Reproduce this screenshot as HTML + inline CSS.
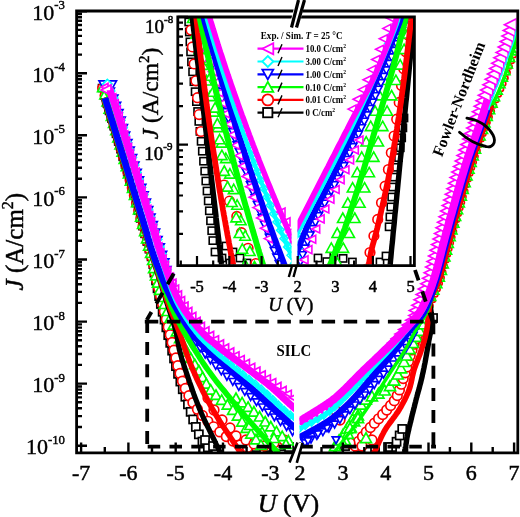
<!DOCTYPE html>
<html><head><meta charset="utf-8"><style>html,body{margin:0;padding:0;background:#fff;overflow:hidden}svg{display:block}</style></head><body>
<svg width="520" height="517" viewBox="0 0 520 517">
<rect width="520" height="517" fill="#fff"/>
<defs><clipPath id="cmL"><rect x="78" y="12" width="216" height="440"/></clipPath><clipPath id="cmR"><rect x="299.5" y="12" width="217" height="440"/></clipPath><clipPath id="ciL"><rect x="179" y="17.5" width="112.5" height="247"/></clipPath><clipPath id="ciR"><rect x="297.5" y="17.5" width="115.5" height="247"/></clipPath></defs>
<g clip-path="url(#cmL)">
<g fill="#fff" stroke="#000000" stroke-width="1.7"><rect x="98.5" y="84.6" width="6.8" height="6.8"/><rect x="100.9" y="92.2" width="6.8" height="6.8"/><rect x="103.2" y="99.9" width="6.8" height="6.8"/><rect x="105.5" y="107.5" width="6.8" height="6.8"/><rect x="107.9" y="115.2" width="6.8" height="6.8"/><rect x="110.2" y="122.9" width="6.8" height="6.8"/><rect x="112.5" y="130.5" width="6.8" height="6.8"/><rect x="114.7" y="138.2" width="6.8" height="6.8"/><rect x="117.0" y="145.9" width="6.8" height="6.8"/><rect x="119.2" y="153.5" width="6.8" height="6.8"/><rect x="121.5" y="161.2" width="6.8" height="6.8"/><rect x="123.7" y="168.9" width="6.8" height="6.8"/><rect x="125.9" y="176.6" width="6.8" height="6.8"/><rect x="128.1" y="184.3" width="6.8" height="6.8"/><rect x="130.2" y="192.0" width="6.8" height="6.8"/><rect x="132.4" y="199.7" width="6.8" height="6.8"/><rect x="134.6" y="207.4" width="6.8" height="6.8"/><rect x="136.7" y="215.1" width="6.8" height="6.8"/><rect x="138.9" y="222.8" width="6.8" height="6.8"/><rect x="141.1" y="230.5" width="6.8" height="6.8"/><rect x="143.3" y="238.2" width="6.8" height="6.8"/><rect x="145.4" y="245.9" width="6.8" height="6.8"/><rect x="147.5" y="253.6" width="6.8" height="6.8"/><rect x="149.3" y="261.4" width="6.8" height="6.8"/></g>
<g fill="#fff" stroke="#000000" stroke-width="1.7"><rect x="150.4" y="268.6" width="8.1" height="8.1"/><rect x="152.0" y="276.4" width="8.1" height="8.1"/><rect x="153.5" y="284.3" width="8.1" height="8.1"/><rect x="155.1" y="292.1" width="8.1" height="8.1"/><rect x="156.8" y="299.9" width="8.1" height="8.1"/><rect x="158.6" y="307.7" width="8.1" height="8.1"/><rect x="160.5" y="315.5" width="8.1" height="8.1"/><rect x="162.3" y="323.3" width="8.1" height="8.1"/><rect x="164.2" y="331.1" width="8.1" height="8.1"/><rect x="166.2" y="338.8" width="8.1" height="8.1"/><rect x="168.1" y="346.6" width="8.1" height="8.1"/><rect x="170.0" y="354.4" width="8.1" height="8.1"/><rect x="171.9" y="362.1" width="8.1" height="8.1"/><rect x="174.0" y="369.8" width="8.1" height="8.1"/><rect x="176.3" y="377.5" width="8.1" height="8.1"/><rect x="178.7" y="385.2" width="8.1" height="8.1"/><rect x="181.3" y="392.7" width="8.1" height="8.1"/><rect x="183.9" y="400.3" width="8.1" height="8.1"/><rect x="186.6" y="407.8" width="8.1" height="8.1"/><rect x="189.1" y="415.4" width="8.1" height="8.1"/><rect x="191.8" y="422.9" width="8.1" height="8.1"/><rect x="194.8" y="430.3" width="8.1" height="8.1"/><rect x="198.4" y="437.5" width="8.1" height="8.1"/><rect x="203.8" y="443.3" width="8.1" height="8.1"/></g>
<g fill="#fff" stroke="#000000" stroke-width="1.7"><rect x="201.0" y="436.0" width="8.1" height="8.1"/></g>
<g fill="#fff" stroke="#000000" stroke-width="1.7"><rect x="209.0" y="442.0" width="8.1" height="8.1"/></g>
<g fill="#fff" stroke="#000000" stroke-width="1.7"><rect x="239.0" y="443.0" width="8.1" height="8.1"/></g>
<g fill="#fff" stroke="#000000" stroke-width="1.7"><rect x="252.0" y="443.0" width="8.1" height="8.1"/></g>
<g fill="#fff" stroke="#000000" stroke-width="1.7"><rect x="264.0" y="443.0" width="8.1" height="8.1"/></g>
<g fill="#fff" stroke="#000000" stroke-width="1.7"><rect x="276.0" y="442.0" width="8.1" height="8.1"/></g>
<g fill="#fff" stroke="#000000" stroke-width="1.7"><rect x="285.0" y="443.0" width="8.1" height="8.1"/></g>
<g fill="#fff" stroke="#ff0000" stroke-width="1.7"><circle cx="101.9" cy="88.0" r="4.0"/><circle cx="104.3" cy="95.6" r="4.0"/><circle cx="106.6" cy="103.3" r="4.0"/><circle cx="108.9" cy="110.9" r="4.0"/><circle cx="111.3" cy="118.6" r="4.0"/><circle cx="113.6" cy="126.3" r="4.0"/><circle cx="115.9" cy="133.9" r="4.0"/><circle cx="118.1" cy="141.6" r="4.0"/><circle cx="120.4" cy="149.3" r="4.0"/><circle cx="122.6" cy="156.9" r="4.0"/><circle cx="124.9" cy="164.6" r="4.0"/><circle cx="127.1" cy="172.3" r="4.0"/><circle cx="129.3" cy="180.0" r="4.0"/><circle cx="131.5" cy="187.7" r="4.0"/><circle cx="133.6" cy="195.4" r="4.0"/><circle cx="135.8" cy="203.1" r="4.0"/><circle cx="138.0" cy="210.8" r="4.0"/><circle cx="140.1" cy="218.5" r="4.0"/><circle cx="142.3" cy="226.2" r="4.0"/><circle cx="144.4" cy="233.9" r="4.0"/><circle cx="146.6" cy="241.6" r="4.0"/><circle cx="148.7" cy="249.3" r="4.0"/><circle cx="150.8" cy="257.0" r="4.0"/><circle cx="152.8" cy="264.8" r="4.0"/></g>
<g fill="#fff" stroke="#ff0000" stroke-width="1.7"><circle cx="154.8" cy="272.5" r="4.8"/><circle cx="156.7" cy="280.3" r="4.8"/><circle cx="158.6" cy="288.1" r="4.8"/><circle cx="160.5" cy="295.9" r="4.8"/><circle cx="162.4" cy="303.6" r="4.8"/><circle cx="164.3" cy="311.4" r="4.8"/><circle cx="166.3" cy="319.2" r="4.8"/><circle cx="168.2" cy="326.9" r="4.8"/><circle cx="170.2" cy="334.7" r="4.8"/><circle cx="172.1" cy="342.4" r="4.8"/><circle cx="174.0" cy="350.2" r="4.8"/><circle cx="175.9" cy="358.0" r="4.8"/><circle cx="177.8" cy="365.7" r="4.8"/><circle cx="180.0" cy="373.4" r="4.8"/><circle cx="182.4" cy="381.1" r="4.8"/><circle cx="185.3" cy="388.5" r="4.8"/><circle cx="188.9" cy="395.7" r="4.8"/><circle cx="192.9" cy="402.6" r="4.8"/><circle cx="197.4" cy="409.2" r="4.8"/><circle cx="202.4" cy="415.4" r="4.8"/><circle cx="207.8" cy="421.3" r="4.8"/><circle cx="213.6" cy="426.8" r="4.8"/><circle cx="219.8" cy="431.9" r="4.8"/><circle cx="226.3" cy="436.6" r="4.8"/><circle cx="232.9" cy="441.1" r="4.8"/><circle cx="239.9" cy="444.9" r="4.8"/><circle cx="247.5" cy="447.4" r="4.8"/></g>
<g fill="#fff" stroke="#ff0000" stroke-width="1.7"><circle cx="208.0" cy="398.0" r="4.8"/></g>
<g fill="#fff" stroke="#ff0000" stroke-width="1.7"><circle cx="214.0" cy="410.0" r="4.8"/></g>
<g fill="#fff" stroke="#ff0000" stroke-width="1.7"><circle cx="222.0" cy="420.0" r="4.8"/></g>
<g fill="#fff" stroke="#ff0000" stroke-width="1.7"><circle cx="230.0" cy="428.0" r="4.8"/></g>
<g fill="#fff" stroke="#ff0000" stroke-width="1.7"><circle cx="236.0" cy="436.0" r="4.8"/></g>
<g fill="#fff" stroke="#ff0000" stroke-width="1.7"><circle cx="246.0" cy="440.0" r="4.8"/></g>
<g fill="#fff" stroke="#ff0000" stroke-width="1.7"><circle cx="254.0" cy="444.0" r="4.8"/></g>
<g fill="#fff" stroke="#ff0000" stroke-width="1.7"><circle cx="264.0" cy="446.0" r="4.8"/></g>
<g fill="#fff" stroke="#ff0000" stroke-width="1.7"><circle cx="274.0" cy="443.0" r="4.8"/></g>
<g fill="#fff" stroke="#ff0000" stroke-width="1.7"><circle cx="284.0" cy="440.0" r="4.8"/></g>
<g fill="#fff" stroke="#00ff00" stroke-width="1.7"><path d="M97.6 91.6L106.1 91.6L101.9 84.0Z"/><path d="M99.9 98.8L108.4 98.8L104.1 91.1Z"/><path d="M102.1 105.9L110.6 105.9L106.3 98.3Z"/><path d="M104.2 113.1L112.7 113.1L108.5 105.5Z"/><path d="M106.4 120.3L114.9 120.3L110.7 112.6Z"/><path d="M108.6 127.5L117.1 127.5L112.8 119.8Z"/><path d="M110.8 134.7L119.3 134.7L115.0 127.0Z"/><path d="M112.9 141.8L121.4 141.8L117.2 134.2Z"/><path d="M115.0 149.0L123.5 149.0L119.3 141.4Z"/><path d="M117.1 156.2L125.6 156.2L121.4 148.6Z"/><path d="M119.2 163.4L127.7 163.4L123.5 155.8Z"/><path d="M121.3 170.6L129.8 170.6L125.6 163.0Z"/><path d="M123.4 177.8L131.9 177.8L127.6 170.2Z"/><path d="M125.4 185.1L133.9 185.1L129.7 177.4Z"/><path d="M127.5 192.3L136.0 192.3L131.7 184.6Z"/><path d="M129.5 199.5L138.0 199.5L133.8 191.8Z"/><path d="M131.6 206.7L140.1 206.7L135.8 199.1Z"/><path d="M133.6 213.9L142.1 213.9L137.8 206.3Z"/><path d="M135.6 221.2L144.1 221.2L139.8 213.5Z"/><path d="M137.6 228.4L146.1 228.4L141.9 220.7Z"/><path d="M139.6 235.6L148.1 235.6L143.9 228.0Z"/><path d="M141.6 242.8L150.1 242.8L145.8 235.2Z"/><path d="M143.6 250.1L152.1 250.1L147.8 242.4Z"/><path d="M145.6 257.3L154.1 257.3L149.8 249.7Z"/><path d="M147.6 264.5L156.1 264.5L151.9 256.9Z"/></g>
<g fill="#fff" stroke="#00ff00" stroke-width="1.7"><path d="M148.6 272.6L159.1 272.6L153.8 263.2Z"/><path d="M150.5 279.9L161.0 279.9L155.8 270.4Z"/><path d="M152.5 287.1L163.0 287.1L157.7 277.6Z"/><path d="M154.5 294.3L165.0 294.3L159.8 284.9Z"/><path d="M156.7 301.5L167.2 301.5L162.0 292.0Z"/><path d="M159.2 308.5L169.7 308.5L164.5 299.1Z"/><path d="M162.1 315.5L172.6 315.5L167.3 306.0Z"/><path d="M165.1 322.4L175.6 322.4L170.3 312.9Z"/><path d="M168.3 329.2L178.8 329.2L173.5 319.7Z"/><path d="M171.4 335.9L181.9 335.9L176.7 326.5Z"/><path d="M174.6 342.7L185.1 342.7L179.9 333.3Z"/><path d="M178.0 349.4L188.5 349.4L183.3 340.0Z"/><path d="M181.6 356.0L192.1 356.0L186.9 346.5Z"/><path d="M185.5 362.4L196.0 362.4L190.8 353.0Z"/><path d="M189.6 368.7L200.1 368.7L194.8 359.3Z"/><path d="M193.6 375.0L204.1 375.0L198.9 365.6Z"/><path d="M197.3 381.6L207.8 381.6L202.6 372.1Z"/><path d="M201.1 388.1L211.6 388.1L206.3 378.6Z"/><path d="M205.5 394.1L216.0 394.1L210.7 384.7Z"/><path d="M210.7 399.4L221.2 399.4L216.0 390.0Z"/><path d="M216.4 404.3L226.9 404.3L221.7 394.9Z"/><path d="M222.2 409.2L232.7 409.2L227.4 399.7Z"/><path d="M227.6 414.3L238.1 414.3L232.9 404.9Z"/><path d="M232.4 420.1L242.9 420.1L237.7 410.6Z"/><path d="M236.8 426.2L247.3 426.2L242.0 416.7Z"/><path d="M241.1 432.3L251.6 432.3L246.3 422.9Z"/><path d="M245.8 438.1L256.3 438.1L251.1 428.7Z"/><path d="M250.7 443.8L261.2 443.8L256.0 434.3Z"/><path d="M255.8 449.4L266.3 449.4L261.0 439.9Z"/></g>
<g fill="#fff" stroke="#00ff00" stroke-width="1.7"><path d="M230.8 402.5L241.2 402.5L236.0 393.0Z"/><path d="M236.8 406.9L247.3 406.9L242.1 397.4Z"/><path d="M242.8 411.4L253.3 411.4L248.1 401.9Z"/><path d="M248.7 416.1L259.2 416.1L253.9 406.6Z"/><path d="M254.3 421.0L264.8 421.0L259.6 411.5Z"/><path d="M259.9 426.0L270.4 426.0L265.2 416.5Z"/><path d="M265.6 430.9L276.1 430.9L270.8 421.5Z"/><path d="M271.2 435.8L281.7 435.8L276.5 426.4Z"/><path d="M277.0 440.6L287.5 440.6L282.2 431.2Z"/><path d="M283.1 445.0L293.6 445.0L288.3 435.6Z"/></g>
<g fill="#fff" stroke="#00ff00" stroke-width="1.7"><path d="M244.8 429.5L255.2 429.5L250.0 420.0Z"/></g>
<g fill="#fff" stroke="#00ff00" stroke-width="1.7"><path d="M256.8 436.5L267.2 436.5L262.0 427.0Z"/></g>
<g fill="#fff" stroke="#00ff00" stroke-width="1.7"><path d="M268.8 442.5L279.2 442.5L274.0 433.0Z"/></g>
<g fill="#fff" stroke="#00ff00" stroke-width="1.7"><path d="M280.8 448.5L291.2 448.5L286.0 439.0Z"/></g>
<g fill="#fff" stroke="#0000ff" stroke-width="1.7"><path d="M102.0 81.6L110.0 81.6L106.0 88.8Z"/><path d="M106.4 88.0L114.4 88.0L110.4 95.2Z"/><path d="M109.9 95.0L117.9 95.0L113.9 102.2Z"/><path d="M112.6 102.3L120.6 102.3L116.6 109.5Z"/><path d="M115.0 109.7L123.0 109.7L119.0 116.9Z"/><path d="M117.2 117.2L125.2 117.2L121.2 124.4Z"/><path d="M119.4 124.7L127.4 124.7L123.4 131.9Z"/><path d="M121.6 132.2L129.6 132.2L125.6 139.4Z"/><path d="M123.9 139.6L131.9 139.6L127.9 146.8Z"/><path d="M126.2 147.1L134.2 147.1L130.2 154.3Z"/><path d="M128.6 154.5L136.6 154.5L132.6 161.7Z"/><path d="M130.9 162.0L138.9 162.0L134.9 169.2Z"/><path d="M133.2 169.4L141.2 169.4L137.2 176.6Z"/><path d="M135.5 176.9L143.5 176.9L139.5 184.1Z"/><path d="M137.8 184.3L145.8 184.3L141.8 191.5Z"/><path d="M140.1 191.8L148.1 191.8L144.1 199.0Z"/><path d="M142.4 199.2L150.4 199.2L146.4 206.4Z"/><path d="M144.7 206.7L152.7 206.7L148.7 213.9Z"/><path d="M147.0 214.1L155.0 214.1L151.0 221.3Z"/><path d="M149.3 221.6L157.3 221.6L153.3 228.8Z"/><path d="M151.6 229.0L159.6 229.0L155.6 236.2Z"/><path d="M154.0 236.5L162.0 236.5L158.0 243.7Z"/><path d="M156.3 243.9L164.3 243.9L160.3 251.1Z"/><path d="M158.6 251.4L166.6 251.4L162.6 258.6Z"/><path d="M160.9 258.8L168.9 258.8L164.9 266.0Z"/></g>
<g fill="#fff" stroke="#0000ff" stroke-width="1.7"><path d="M163.4 266.5L170.9 266.5L167.2 273.2Z"/><path d="M165.7 274.0L173.2 274.0L169.4 280.7Z"/><path d="M168.0 281.4L175.5 281.4L171.7 288.2Z"/><path d="M170.3 288.9L177.8 288.9L174.1 295.6Z"/><path d="M172.7 296.3L180.2 296.3L176.5 303.0Z"/><path d="M175.2 303.7L182.7 303.7L178.9 310.4Z"/><path d="M177.8 311.0L185.3 311.0L181.5 317.8Z"/><path d="M180.6 318.3L188.1 318.3L184.4 325.0Z"/><path d="M184.0 325.3L191.5 325.3L187.7 332.1Z"/><path d="M187.7 332.2L195.2 332.2L191.5 338.9Z"/><path d="M191.9 338.8L199.4 338.8L195.6 345.5Z"/><path d="M196.5 345.1L204.0 345.1L200.2 351.8Z"/><path d="M201.4 351.1L208.9 351.1L205.2 357.9Z"/><path d="M206.6 356.9L214.1 356.9L210.4 363.7Z"/><path d="M212.0 362.6L219.5 362.6L215.7 369.3Z"/><path d="M217.5 368.1L225.0 368.1L221.3 374.8Z"/><path d="M223.2 373.4L230.7 373.4L226.9 380.2Z"/><path d="M229.1 378.5L236.6 378.5L232.8 385.3Z"/><path d="M235.1 383.6L242.6 383.6L238.8 390.3Z"/><path d="M241.0 388.6L248.5 388.6L244.8 395.3Z"/><path d="M246.9 393.7L254.4 393.7L250.6 400.5Z"/><path d="M252.7 398.9L260.2 398.9L256.5 405.6Z"/><path d="M258.6 404.0L266.1 404.0L262.4 410.8Z"/><path d="M264.6 409.1L272.1 409.1L268.3 415.8Z"/><path d="M270.6 414.0L278.1 414.0L274.4 420.7Z"/><path d="M276.7 418.8L284.2 418.8L280.5 425.6Z"/><path d="M282.8 423.7L290.3 423.7L286.6 430.4Z"/><path d="M288.8 428.7L296.3 428.7L292.5 435.5Z"/></g>
<g fill="#fff" stroke="#0000ff" stroke-width="1.7"><path d="M99.0 80.8L109.0 80.8L104.0 89.8Z"/></g>
<g fill="#fff" stroke="#0000ff" stroke-width="1.7"><path d="M106.5 80.8L116.5 80.8L111.5 89.8Z"/></g>
<g fill="#fff" stroke="#00ffff" stroke-width="1.7"><path d="M107.0 80.0L111.0 84.0L107.0 88.0L103.0 84.0Z"/><path d="M110.7 86.9L114.7 90.9L110.7 94.9L106.7 90.9Z"/><path d="M113.8 94.0L117.8 98.0L113.8 102.0L109.8 98.0Z"/><path d="M116.3 101.4L120.3 105.4L116.3 109.4L112.3 105.4Z"/><path d="M118.7 108.8L122.7 112.8L118.7 116.8L114.7 112.8Z"/><path d="M120.9 116.3L124.9 120.3L120.9 124.3L116.9 120.3Z"/><path d="M123.2 123.8L127.2 127.8L123.2 131.8L119.2 127.8Z"/><path d="M125.4 131.2L129.4 135.2L125.4 139.2L121.4 135.2Z"/><path d="M127.7 138.7L131.7 142.7L127.7 146.7L123.7 142.7Z"/><path d="M130.0 146.1L134.0 150.1L130.0 154.1L126.0 150.1Z"/><path d="M132.4 153.6L136.4 157.6L132.4 161.6L128.4 157.6Z"/><path d="M134.7 161.0L138.7 165.0L134.7 169.0L130.7 165.0Z"/><path d="M137.0 168.5L141.0 172.5L137.0 176.5L133.0 172.5Z"/><path d="M139.3 175.9L143.3 179.9L139.3 183.9L135.3 179.9Z"/><path d="M141.6 183.4L145.6 187.4L141.6 191.4L137.6 187.4Z"/><path d="M143.9 190.8L147.9 194.8L143.9 198.8L139.9 194.8Z"/><path d="M146.2 198.3L150.2 202.3L146.2 206.3L142.2 202.3Z"/><path d="M148.5 205.7L152.5 209.7L148.5 213.7L144.5 209.7Z"/><path d="M150.8 213.2L154.8 217.2L150.8 221.2L146.8 217.2Z"/><path d="M153.1 220.7L157.1 224.7L153.1 228.7L149.1 224.7Z"/><path d="M155.4 228.1L159.4 232.1L155.4 236.1L151.4 232.1Z"/><path d="M157.7 235.6L161.7 239.6L157.7 243.6L153.7 239.6Z"/><path d="M160.0 243.0L164.0 247.0L160.0 251.0L156.0 247.0Z"/><path d="M162.3 250.5L166.3 254.5L162.3 258.5L158.3 254.5Z"/><path d="M164.7 257.9L168.7 261.9L164.7 265.9L160.7 261.9Z"/></g>
<g fill="#fff" stroke="#00ffff" stroke-width="1.7"><path d="M167.1 265.3L171.1 269.3L167.1 273.3L163.1 269.3Z"/><path d="M169.5 272.7L173.5 276.7L169.5 280.7L165.5 276.7Z"/><path d="M172.0 280.1L176.0 284.1L172.0 288.1L168.0 284.1Z"/><path d="M174.6 287.5L178.6 291.5L174.6 295.5L170.6 291.5Z"/><path d="M177.5 294.7L181.5 298.7L177.5 302.7L173.5 298.7Z"/><path d="M180.7 301.8L184.7 305.8L180.7 309.8L176.7 305.8Z"/><path d="M184.3 308.7L188.3 312.7L184.3 316.7L180.3 312.7Z"/><path d="M188.3 315.4L192.3 319.4L188.3 323.4L184.3 319.4Z"/><path d="M192.6 322.0L196.6 326.0L192.6 330.0L188.6 326.0Z"/><path d="M197.1 328.3L201.1 332.3L197.1 336.3L193.1 332.3Z"/><path d="M202.0 334.4L206.0 338.4L202.0 342.4L198.0 338.4Z"/><path d="M207.2 340.2L211.2 344.2L207.2 348.2L203.2 344.2Z"/><path d="M212.7 345.7L216.7 349.7L212.7 353.7L208.7 349.7Z"/><path d="M218.5 351.0L222.5 355.0L218.5 359.0L214.5 355.0Z"/><path d="M224.5 356.0L228.5 360.0L224.5 364.0L220.5 360.0Z"/><path d="M230.6 360.8L234.6 364.8L230.6 368.8L226.6 364.8Z"/><path d="M236.7 365.7L240.7 369.7L236.7 373.7L232.7 369.7Z"/><path d="M242.7 370.6L246.7 374.6L242.7 378.6L238.7 374.6Z"/><path d="M248.9 375.4L252.9 379.4L248.9 383.4L244.9 379.4Z"/><path d="M255.0 380.2L259.0 384.2L255.0 388.2L251.0 384.2Z"/><path d="M261.0 385.2L265.0 389.2L261.0 393.2L257.0 389.2Z"/><path d="M266.9 390.3L270.9 394.3L266.9 398.3L262.9 394.3Z"/><path d="M272.6 395.7L276.6 399.7L272.6 403.7L268.6 399.7Z"/><path d="M278.2 401.0L282.2 405.0L278.2 409.0L274.2 405.0Z"/><path d="M284.0 406.3L288.0 410.3L284.0 414.3L280.0 410.3Z"/><path d="M290.1 411.1L294.1 415.1L290.1 419.1L286.1 415.1Z"/><path d="M296.8 415.2L300.8 419.2L296.8 423.2L292.8 419.2Z"/></g>
<g fill="#fff" stroke="#00ffff" stroke-width="1.7"><path d="M107.5 79.5L112.0 84.0L107.5 88.5L103.0 84.0Z"/></g>
<g fill="#fff" stroke="#ff00ff" stroke-width="1.7"><path d="M101.0 87.0L108.0 83.5L108.0 90.5Z"/><path d="M105.4 91.8L112.4 88.3L112.4 95.3Z"/><path d="M108.8 97.3L115.8 93.8L115.8 100.8Z"/><path d="M111.2 103.3L118.2 99.8L118.2 106.8Z"/><path d="M113.3 109.5L120.3 106.0L120.3 113.0Z"/><path d="M115.2 115.7L122.2 112.2L122.2 119.2Z"/><path d="M117.1 121.9L124.1 118.4L124.1 125.4Z"/><path d="M118.9 128.2L125.9 124.7L125.9 131.7Z"/><path d="M120.7 134.4L127.7 130.9L127.7 137.9Z"/><path d="M122.6 140.6L129.6 137.1L129.6 144.1Z"/><path d="M124.5 146.8L131.5 143.3L131.5 150.3Z"/><path d="M126.4 153.1L133.4 149.6L133.4 156.6Z"/><path d="M128.4 159.3L135.4 155.8L135.4 162.8Z"/><path d="M130.3 165.5L137.3 162.0L137.3 169.0Z"/><path d="M132.2 171.7L139.2 168.2L139.2 175.2Z"/><path d="M134.1 177.9L141.1 174.4L141.1 181.4Z"/><path d="M136.1 184.1L143.1 180.6L143.1 187.6Z"/><path d="M138.0 190.3L145.0 186.8L145.0 193.8Z"/><path d="M139.9 196.5L146.9 193.0L146.9 200.0Z"/><path d="M141.8 202.7L148.8 199.2L148.8 206.2Z"/><path d="M143.8 208.9L150.8 205.4L150.8 212.4Z"/><path d="M145.7 215.1L152.7 211.6L152.7 218.6Z"/><path d="M147.6 221.3L154.6 217.8L154.6 224.8Z"/><path d="M149.5 227.6L156.5 224.1L156.5 231.1Z"/><path d="M151.3 233.8L158.3 230.3L158.3 237.3Z"/><path d="M153.1 240.1L160.1 236.6L160.1 243.6Z"/><path d="M154.9 246.3L161.9 242.8L161.9 249.8Z"/><path d="M156.9 252.5L163.9 249.0L163.9 256.0Z"/><path d="M159.1 258.6L166.1 255.1L166.1 262.1Z"/><path d="M161.4 264.7L168.4 261.2L168.4 268.2Z"/></g>
<g fill="#fff" stroke="#ff00ff" stroke-width="1.7"><path d="M163.8 270.7L170.8 267.2L170.8 274.2Z"/><path d="M166.3 276.7L173.3 273.2L173.3 280.2Z"/><path d="M168.9 282.7L175.9 279.2L175.9 286.2Z"/><path d="M171.6 288.6L178.6 285.1L178.6 292.1Z"/><path d="M174.5 294.4L181.5 290.9L181.5 297.9Z"/><path d="M177.6 300.1L184.6 296.6L184.6 303.6Z"/><path d="M181.0 305.6L188.0 302.1L188.0 309.1Z"/><path d="M184.8 310.9L191.8 307.4L191.8 314.4Z"/><path d="M188.8 316.0L195.8 312.5L195.8 319.5Z"/><path d="M193.1 321.0L200.1 317.5L200.1 324.5Z"/><path d="M197.4 325.8L204.4 322.3L204.4 329.3Z"/><path d="M201.9 330.5L208.9 327.0L208.9 334.0Z"/><path d="M206.6 335.0L213.6 331.5L213.6 338.5Z"/><path d="M211.5 339.3L218.5 335.8L218.5 342.8Z"/><path d="M216.5 343.4L223.5 339.9L223.5 346.9Z"/><path d="M221.6 347.5L228.6 344.0L228.6 351.0Z"/><path d="M226.7 351.4L233.7 347.9L233.7 354.9Z"/><path d="M232.0 355.3L239.0 351.8L239.0 358.8Z"/><path d="M237.2 359.1L244.2 355.6L244.2 362.6Z"/><path d="M242.4 363.0L249.4 359.5L249.4 366.5Z"/><path d="M247.7 366.8L254.7 363.3L254.7 370.3Z"/><path d="M252.9 370.6L259.9 367.1L259.9 374.1Z"/><path d="M258.2 374.5L265.2 371.0L265.2 378.0Z"/><path d="M263.4 378.3L270.4 374.8L270.4 381.8Z"/><path d="M268.7 382.1L275.7 378.6L275.7 385.6Z"/><path d="M273.9 386.0L280.9 382.5L280.9 389.5Z"/><path d="M279.1 389.9L286.1 386.4L286.1 393.4Z"/><path d="M284.3 393.8L291.3 390.3L291.3 397.3Z"/><path d="M289.5 397.7L296.5 394.2L296.5 401.2Z"/></g>
<g fill="#fff" stroke="#ff00ff" stroke-width="1.7"><path d="M101.0 90.0L111.0 85.0L111.0 95.0Z"/></g>
<path d="M103.1 98.0 L103.7 100.0 L104.5 102.6 L105.4 105.6 L106.5 109.0 L107.6 112.6 L108.8 116.5 L110.1 120.5 L111.3 124.6 L112.6 128.7 L113.8 132.6 L115.0 136.4 L116.1 140.0 L117.2 143.4 L118.2 146.8 L119.2 150.1 L120.3 153.5 L121.3 156.8 L122.3 160.1 L123.4 163.4 L124.4 166.7 L125.4 170.0 L126.4 173.4 L127.5 176.7 L128.5 180.0 L129.5 183.3 L130.6 186.7 L131.6 190.0 L132.6 193.3 L133.7 196.7 L134.7 200.0 L135.7 203.3 L136.8 206.7 L137.8 210.0 L138.8 213.3 L139.9 216.7 L140.9 220.0 L141.9 223.3 L143.0 226.7 L144.0 230.0 L145.0 233.3 L146.1 236.7 L147.1 240.0 L148.1 243.3 L149.1 246.7 L150.2 250.0 L151.2 253.3 L152.3 256.7 L153.3 260.0 L154.4 263.4 L155.4 266.8 L156.5 270.2 L157.6 273.7 L158.7 277.2 L159.8 280.6 L160.9 284.0 L162.0 287.4 L163.0 290.7 L164.1 293.9 L165.1 297.0 L166.0 300.0 L166.9 302.9 L167.8 305.7 L168.7 308.4 L169.6 311.1 L170.5 313.7 L171.3 316.2 L172.1 318.7 L172.9 321.1 L173.6 323.4 L174.3 325.7 L174.9 327.9 L175.5 330.0 L176.0 332.0 L176.5 333.9 L176.8 335.7 L177.2 337.4 L177.5 339.0 L177.7 340.6 L178.0 342.2 L178.2 343.7 L178.5 345.2 L178.8 346.8 L179.1 348.4 L179.5 350.0 L179.9 351.6 L180.3 353.1 L180.7 354.5 L181.0 355.9 L181.4 357.3 L181.8 358.8 L182.3 360.2 L182.8 361.9 L183.4 363.6 L184.0 365.5 L184.7 367.6 L185.5 370.0 L186.4 372.6 L187.4 375.5 L188.4 378.5 L189.5 381.8 L190.7 385.1 L191.9 388.6 L193.1 392.2 L194.4 395.8 L195.8 399.4 L197.2 403.0 L198.6 406.5 L200.0 410.0 L201.5 413.5 L203.2 417.3 L205.0 421.2 L206.9 425.2 L208.9 429.2 L210.8 433.1 L212.7 437.0 L214.5 440.6 L216.1 444.0 L217.6 447.1 L218.9 449.8 L220.0 452.0 L220.8 453.8 L221.4 455.2 L221.8 456.2 L222.1 456.9 L222.2 457.4 L222.2 457.6 L222.2 457.7 L222.1 457.8 L222.1 457.8 L222.0 457.8 L222.0 457.8 L222.0 458.0" fill="none" stroke="#000000" stroke-width="5.2" stroke-linejoin="round"/>
<path d="M103.6 98.0 L104.2 100.0 L105.0 102.6 L105.9 105.6 L107.0 109.0 L108.1 112.6 L109.3 116.5 L110.6 120.5 L111.8 124.6 L113.1 128.7 L114.3 132.6 L115.5 136.4 L116.6 140.0 L117.7 143.4 L118.7 146.8 L119.7 150.1 L120.8 153.5 L121.8 156.8 L122.8 160.1 L123.9 163.4 L124.9 166.7 L125.9 170.0 L126.9 173.4 L128.0 176.7 L129.0 180.0 L130.0 183.3 L131.1 186.7 L132.1 190.0 L133.1 193.3 L134.2 196.7 L135.2 200.0 L136.2 203.3 L137.3 206.7 L138.3 210.0 L139.3 213.3 L140.4 216.7 L141.4 220.0 L142.4 223.3 L143.5 226.7 L144.5 230.0 L145.5 233.3 L146.5 236.7 L147.6 240.0 L148.6 243.3 L149.6 246.7 L150.6 250.0 L151.7 253.3 L152.7 256.7 L153.8 260.0 L154.9 263.4 L156.0 266.8 L157.1 270.2 L158.2 273.7 L159.3 277.2 L160.5 280.6 L161.6 284.0 L162.7 287.4 L163.8 290.7 L164.9 293.9 L166.0 297.0 L167.0 300.0 L168.0 302.8 L169.0 305.5 L169.9 308.0 L170.8 310.4 L171.8 312.7 L172.7 315.0 L173.6 317.3 L174.5 319.6 L175.5 322.0 L176.4 324.5 L177.4 327.2 L178.5 330.0 L179.6 333.0 L180.7 336.1 L181.8 339.3 L182.9 342.6 L184.1 346.0 L185.2 349.4 L186.4 352.8 L187.6 356.3 L188.9 359.8 L190.2 363.2 L191.6 366.6 L193.0 370.0 L194.5 373.3 L195.9 376.6 L197.4 380.0 L199.0 383.3 L200.6 386.6 L202.2 389.9 L203.9 393.2 L205.6 396.5 L207.4 399.9 L209.2 403.2 L211.1 406.6 L213.0 410.0 L215.1 413.5 L217.4 417.3 L219.8 421.2 L222.4 425.2 L225.0 429.2 L227.6 433.1 L230.2 437.0 L232.6 440.6 L234.8 444.0 L236.9 447.1 L238.6 449.8 L240.0 452.0 L241.0 453.8 L241.8 455.2 L242.3 456.2 L242.6 456.9 L242.7 457.4 L242.7 457.6 L242.6 457.7 L242.4 457.8 L242.2 457.8 L242.1 457.8 L242.0 457.8 L242.0 458.0" fill="none" stroke="#ff0000" stroke-width="5.6" stroke-linejoin="round"/>
<path d="M104.1 98.0 L104.7 100.0 L105.5 102.6 L106.4 105.6 L107.5 109.0 L108.6 112.6 L109.8 116.5 L111.1 120.5 L112.3 124.6 L113.6 128.7 L114.8 132.6 L116.0 136.4 L117.1 140.0 L118.2 143.4 L119.2 146.8 L120.2 150.1 L121.3 153.5 L122.3 156.8 L123.3 160.1 L124.4 163.4 L125.4 166.7 L126.4 170.0 L127.4 173.4 L128.5 176.7 L129.5 180.0 L130.5 183.3 L131.6 186.7 L132.6 190.0 L133.6 193.3 L134.7 196.7 L135.7 200.0 L136.7 203.3 L137.8 206.7 L138.8 210.0 L139.8 213.3 L140.9 216.7 L141.9 220.0 L142.9 223.3 L143.9 226.7 L145.0 230.0 L146.0 233.3 L147.0 236.7 L148.0 240.0 L149.0 243.3 L150.0 246.7 L151.1 250.0 L152.1 253.3 L153.2 256.7 L154.3 260.0 L155.4 263.4 L156.6 266.8 L157.7 270.2 L158.9 273.7 L160.1 277.2 L161.3 280.6 L162.5 284.0 L163.7 287.4 L164.9 290.7 L166.1 293.9 L167.3 297.0 L168.5 300.0 L169.7 302.8 L170.8 305.5 L171.9 308.0 L172.9 310.4 L174.0 312.7 L175.1 315.0 L176.2 317.3 L177.4 319.6 L178.6 322.0 L180.0 324.5 L181.4 327.2 L183.0 330.0 L184.7 333.0 L186.5 336.1 L188.3 339.3 L190.3 342.6 L192.3 346.0 L194.4 349.4 L196.6 352.8 L198.8 356.3 L201.0 359.8 L203.3 363.2 L205.6 366.6 L208.0 370.0 L210.5 373.4 L213.0 376.8 L215.7 380.4 L218.5 383.9 L221.3 387.4 L224.2 390.9 L227.0 394.4 L229.8 397.8 L232.5 401.1 L235.2 404.2 L237.7 407.2 L240.0 410.0 L242.2 412.6 L244.3 415.1 L246.3 417.4 L248.2 419.6 L250.1 421.7 L251.9 423.8 L253.6 425.7 L255.3 427.6 L257.0 429.5 L258.7 431.3 L260.3 433.1 L262.0 435.0 L263.7 436.9 L265.4 438.9 L267.2 440.8 L269.0 442.8 L270.7 444.7 L272.4 446.6 L274.0 448.3 L275.5 450.0 L276.9 451.5 L278.1 452.9 L279.1 454.0 L280.0 455.0" fill="none" stroke="#00ff00" stroke-width="5.6" stroke-linejoin="round"/>
<path d="M105.0 98.0 L105.6 100.0 L106.4 102.6 L107.3 105.6 L108.4 109.0 L109.5 112.6 L110.7 116.5 L112.0 120.5 L113.2 124.6 L114.5 128.7 L115.7 132.6 L116.9 136.4 L118.0 140.0 L119.1 143.4 L120.1 146.8 L121.1 150.1 L122.2 153.5 L123.2 156.8 L124.2 160.1 L125.3 163.4 L126.3 166.7 L127.3 170.0 L128.3 173.4 L129.4 176.7 L130.4 180.0 L131.4 183.3 L132.5 186.7 L133.5 190.0 L134.5 193.3 L135.6 196.7 L136.6 200.0 L137.6 203.3 L138.7 206.7 L139.7 210.0 L140.7 213.3 L141.8 216.7 L142.8 220.0 L143.8 223.3 L144.8 226.7 L145.8 230.0 L146.8 233.3 L147.7 236.7 L148.7 240.0 L149.7 243.3 L150.7 246.7 L151.8 250.0 L152.9 253.3 L154.0 256.7 L155.2 260.0 L156.4 263.4 L157.7 266.8 L159.1 270.2 L160.4 273.7 L161.8 277.2 L163.2 280.6 L164.7 284.0 L166.1 287.4 L167.6 290.7 L169.1 293.9 L170.5 297.0 L172.0 300.0 L173.5 302.9 L174.9 305.7 L176.4 308.4 L177.9 311.1 L179.5 313.7 L181.0 316.2 L182.5 318.7 L184.0 321.1 L185.5 323.4 L187.0 325.7 L188.5 327.9 L190.0 330.0 L191.4 332.0 L192.8 333.9 L194.2 335.7 L195.5 337.4 L196.9 339.0 L198.2 340.6 L199.5 342.2 L200.9 343.7 L202.4 345.2 L203.8 346.8 L205.4 348.4 L207.0 350.0 L208.7 351.7 L210.5 353.3 L212.3 355.0 L214.2 356.7 L216.2 358.3 L218.1 360.0 L220.1 361.7 L222.1 363.3 L224.1 365.0 L226.1 366.7 L228.1 368.3 L230.0 370.0 L231.9 371.7 L233.8 373.3 L235.8 375.0 L237.7 376.6 L239.6 378.3 L241.5 379.9 L243.4 381.6 L245.3 383.3 L247.2 384.9 L249.2 386.6 L251.1 388.3 L253.0 390.0 L254.9 391.7 L256.8 393.4 L258.7 395.2 L260.6 396.9 L262.5 398.7 L264.4 400.4 L266.3 402.2 L268.3 403.9 L270.2 405.7 L272.1 407.5 L274.0 409.2 L276.0 411.0 L278.0 412.8 L280.2 414.8 L282.5 416.8 L284.8 418.9 L287.1 421.0 L289.4 423.1 L291.7 425.0 L293.7 426.9 L295.7 428.6 L297.4 430.2 L298.8 431.5 L300.0 432.5" fill="none" stroke="#0000ff" stroke-width="6.6" stroke-linejoin="round"/>
<path d="M111.1 98.0 L111.7 100.0 L112.5 102.6 L113.4 105.6 L114.5 109.0 L115.6 112.6 L116.8 116.5 L118.1 120.5 L119.3 124.6 L120.6 128.7 L121.8 132.6 L123.0 136.4 L124.1 140.0 L125.2 143.4 L126.2 146.8 L127.2 150.1 L128.3 153.5 L129.3 156.8 L130.3 160.1 L131.4 163.4 L132.4 166.7 L133.4 170.0 L134.4 173.4 L135.5 176.7 L136.5 180.0 L137.5 183.3 L138.6 186.7 L139.6 190.0 L140.6 193.3 L141.7 196.7 L142.7 200.0 L143.7 203.3 L144.8 206.7 L145.8 210.0 L146.8 213.3 L147.9 216.7 L148.9 220.0 L149.9 223.3 L150.9 226.7 L152.0 230.0 L153.0 233.3 L154.0 236.7 L155.0 240.0 L156.0 243.3 L157.0 246.7 L158.1 250.0 L159.1 253.3 L160.2 256.7 L161.3 260.0 L162.4 263.4 L163.5 266.8 L164.6 270.2 L165.7 273.7 L166.9 277.2 L168.0 280.6 L169.2 284.0 L170.4 287.4 L171.6 290.7 L172.9 293.9 L174.2 297.0 L175.5 300.0 L176.9 302.9 L178.3 305.7 L179.8 308.4 L181.3 311.1 L182.9 313.7 L184.4 316.2 L186.0 318.7 L187.6 321.1 L189.2 323.4 L190.8 325.7 L192.4 327.9 L194.0 330.0 L195.5 332.0 L197.1 333.9 L198.6 335.7 L200.1 337.4 L201.6 339.0 L203.2 340.6 L204.7 342.2 L206.3 343.7 L207.9 345.2 L209.5 346.8 L211.2 348.4 L213.0 350.0 L214.8 351.7 L216.7 353.3 L218.6 355.0 L220.6 356.7 L222.6 358.3 L224.6 360.0 L226.7 361.7 L228.7 363.3 L230.8 365.0 L232.9 366.7 L234.9 368.3 L237.0 370.0 L239.1 371.7 L241.1 373.3 L243.2 375.0 L245.3 376.6 L247.4 378.2 L249.5 379.9 L251.6 381.5 L253.7 383.2 L255.8 384.9 L257.9 386.6 L259.9 388.3 L262.0 390.0 L264.1 391.8 L266.2 393.7 L268.3 395.7 L270.4 397.7 L272.6 399.7 L274.7 401.7 L276.8 403.7 L278.8 405.6 L280.7 407.4 L282.6 409.1 L284.4 410.6 L286.0 412.0 L287.6 413.2 L289.1 414.4 L290.5 415.4 L291.9 416.3 L293.3 417.1 L294.5 417.9 L295.7 418.5 L296.7 419.1 L297.7 419.7 L298.6 420.2 L299.4 420.6 L300.0 421.0" fill="none" stroke="#00ffff" stroke-width="4.5" stroke-linejoin="round"/>
<path d="M110.1 90.0 L110.2 90.3 L110.2 90.5 L110.3 90.6 L110.4 90.8 L110.4 91.0 L110.5 91.4 L110.7 91.9 L110.9 92.5 L111.2 93.4 L111.5 94.6 L112.0 96.1 L112.6 98.0 L113.3 100.3 L114.1 103.1 L115.1 106.2 L116.2 109.6 L117.3 113.2 L118.5 117.0 L119.7 120.9 L120.9 124.9 L122.1 128.8 L123.3 132.7 L124.5 136.5 L125.6 140.0 L126.7 143.4 L127.7 146.8 L128.7 150.1 L129.8 153.5 L130.8 156.8 L131.8 160.1 L132.9 163.4 L133.9 166.7 L134.9 170.0 L135.9 173.4 L137.0 176.7 L138.0 180.0 L139.0 183.3 L140.1 186.7 L141.1 190.0 L142.1 193.3 L143.2 196.7 L144.2 200.0 L145.2 203.3 L146.3 206.7 L147.3 210.0 L148.3 213.3 L149.4 216.7 L150.4 220.0 L151.4 223.3 L152.4 226.7 L153.4 230.0 L154.4 233.3 L155.4 236.7 L156.4 240.0 L157.4 243.3 L158.4 246.7 L159.5 250.0 L160.5 253.3 L161.7 256.7 L162.8 260.0 L164.0 263.4 L165.2 266.8 L166.4 270.2 L167.6 273.7 L168.8 277.2 L170.1 280.6 L171.4 284.0 L172.7 287.4 L174.1 290.7 L175.5 293.9 L177.0 297.0 L178.5 300.0 L180.1 302.9 L181.8 305.7 L183.5 308.5 L185.3 311.2 L187.1 313.8 L189.0 316.4 L190.9 318.9 L192.7 321.3 L194.6 323.6 L196.4 325.8 L198.2 328.0 L200.0 330.0 L201.7 331.9 L203.4 333.7 L205.0 335.3 L206.6 336.9 L208.2 338.4 L209.8 339.8 L211.5 341.1 L213.1 342.4 L214.8 343.8 L216.5 345.1 L218.2 346.5 L220.0 348.0 L221.9 349.5 L223.7 351.0 L225.7 352.5 L227.6 353.9 L229.6 355.4 L231.6 356.9 L233.7 358.4 L235.7 359.9 L237.8 361.4 L239.8 362.9 L241.9 364.4 L244.0 366.0 L246.1 367.6 L248.3 369.2 L250.5 370.9 L252.7 372.5 L254.9 374.2 L257.1 375.9 L259.3 377.6 L261.6 379.3 L263.7 381.0 L265.9 382.6 L268.0 384.3 L270.0 386.0 L272.0 387.7 L274.1 389.5 L276.1 391.3 L278.1 393.2 L280.2 395.0 L282.1 396.9 L284.0 398.7 L285.9 400.4 L287.6 402.0 L289.2 403.5 L290.7 404.8 L292.0 406.0 L293.2 407.0 L294.2 407.9 L295.2 408.6 L296.0 409.3 L296.7 409.8 L297.4 410.2 L297.9 410.6 L298.4 411.0 L298.9 411.2 L299.3 411.5 L299.7 411.8 L300.0 412.0" fill="none" stroke="#ff00ff" stroke-width="7.0" stroke-linejoin="round"/>
</g>
<g clip-path="url(#cmR)">
<g fill="#fff" stroke="#000000" stroke-width="1.7"><rect x="423.4" y="305.6" width="5.1" height="5.1"/><rect x="425.9" y="299.1" width="5.1" height="5.1"/><rect x="428.9" y="292.7" width="5.1" height="5.1"/><rect x="431.9" y="286.4" width="5.1" height="5.1"/><rect x="434.6" y="280.0" width="5.1" height="5.1"/><rect x="436.9" y="273.3" width="5.1" height="5.1"/><rect x="438.8" y="266.6" width="5.1" height="5.1"/><rect x="440.6" y="259.8" width="5.1" height="5.1"/><rect x="442.3" y="253.0" width="5.1" height="5.1"/><rect x="444.0" y="246.2" width="5.1" height="5.1"/><rect x="445.7" y="239.5" width="5.1" height="5.1"/><rect x="447.5" y="232.7" width="5.1" height="5.1"/><rect x="449.4" y="225.9" width="5.1" height="5.1"/><rect x="451.2" y="219.2" width="5.1" height="5.1"/><rect x="453.1" y="212.4" width="5.1" height="5.1"/><rect x="454.9" y="205.7" width="5.1" height="5.1"/><rect x="456.8" y="199.0" width="5.1" height="5.1"/><rect x="458.7" y="192.2" width="5.1" height="5.1"/><rect x="460.6" y="185.5" width="5.1" height="5.1"/><rect x="462.6" y="178.8" width="5.1" height="5.1"/><rect x="464.5" y="172.0" width="5.1" height="5.1"/><rect x="466.6" y="165.3" width="5.1" height="5.1"/><rect x="468.7" y="158.7" width="5.1" height="5.1"/><rect x="470.9" y="152.0" width="5.1" height="5.1"/><rect x="473.1" y="145.4" width="5.1" height="5.1"/><rect x="475.5" y="138.8" width="5.1" height="5.1"/><rect x="477.9" y="132.2" width="5.1" height="5.1"/><rect x="480.2" y="125.6" width="5.1" height="5.1"/><rect x="482.6" y="119.0" width="5.1" height="5.1"/><rect x="484.8" y="112.4" width="5.1" height="5.1"/><rect x="486.9" y="105.7" width="5.1" height="5.1"/></g>
<g fill="#fff" stroke="#000000" stroke-width="1.7"><rect x="388.0" y="443.0" width="8.1" height="8.1"/><rect x="392.5" y="437.7" width="8.1" height="8.1"/><rect x="395.6" y="431.4" width="8.1" height="8.1"/><rect x="398.2" y="424.9" width="8.1" height="8.1"/><rect x="429.0" y="314.0" width="8.1" height="8.1"/><rect x="422.9" y="310.6" width="8.1" height="8.1"/></g>
<g fill="#fff" stroke="#000000" stroke-width="1.7"><rect x="341.0" y="442.0" width="8.1" height="8.1"/></g>
<g fill="#fff" stroke="#000000" stroke-width="1.7"><rect x="354.0" y="443.0" width="8.1" height="8.1"/></g>
<g fill="#fff" stroke="#000000" stroke-width="1.7"><rect x="371.0" y="443.0" width="8.1" height="8.1"/></g>
<g fill="#fff" stroke="#000000" stroke-width="1.7"><rect x="384.0" y="443.0" width="8.1" height="8.1"/></g>
<g fill="#fff" stroke="#ff0000" stroke-width="1.7"><circle cx="428.4" cy="311.2" r="2.2"/><circle cx="430.8" cy="305.7" r="2.2"/><circle cx="433.2" cy="300.2" r="2.2"/><circle cx="435.6" cy="294.7" r="2.2"/><circle cx="437.9" cy="289.2" r="2.2"/><circle cx="440.0" cy="283.6" r="2.2"/><circle cx="441.9" cy="277.8" r="2.2"/><circle cx="443.5" cy="272.1" r="2.2"/><circle cx="445.1" cy="266.3" r="2.2"/><circle cx="446.6" cy="260.5" r="2.2"/><circle cx="448.1" cy="254.7" r="2.2"/><circle cx="449.6" cy="248.9" r="2.2"/><circle cx="451.1" cy="243.0" r="2.2"/><circle cx="452.6" cy="237.3" r="2.2"/><circle cx="454.2" cy="231.5" r="2.2"/><circle cx="455.8" cy="225.7" r="2.2"/><circle cx="457.4" cy="219.9" r="2.2"/><circle cx="459.0" cy="214.1" r="2.2"/><circle cx="460.6" cy="208.3" r="2.2"/><circle cx="462.2" cy="202.5" r="2.2"/><circle cx="463.8" cy="196.8" r="2.2"/><circle cx="465.5" cy="191.0" r="2.2"/><circle cx="467.1" cy="185.2" r="2.2"/><circle cx="468.8" cy="179.5" r="2.2"/><circle cx="470.5" cy="173.7" r="2.2"/><circle cx="472.2" cy="168.0" r="2.2"/><circle cx="474.0" cy="162.2" r="2.2"/><circle cx="475.8" cy="156.5" r="2.2"/><circle cx="477.8" cy="150.8" r="2.2"/><circle cx="479.7" cy="145.2" r="2.2"/><circle cx="481.7" cy="139.5" r="2.2"/><circle cx="483.7" cy="133.9" r="2.2"/><circle cx="485.8" cy="128.2" r="2.2"/><circle cx="487.8" cy="122.6" r="2.2"/><circle cx="489.9" cy="117.0" r="2.2"/><circle cx="492.1" cy="111.4" r="2.2"/><circle cx="494.3" cy="105.8" r="2.2"/><circle cx="496.6" cy="100.3" r="2.2"/><circle cx="499.0" cy="94.7" r="2.2"/><circle cx="501.3" cy="89.2" r="2.2"/><circle cx="503.6" cy="83.7" r="2.2"/><circle cx="505.8" cy="78.1" r="2.2"/><circle cx="507.9" cy="72.5" r="2.2"/><circle cx="510.0" cy="66.8" r="2.2"/><circle cx="512.0" cy="61.2" r="2.2"/><circle cx="514.0" cy="55.5" r="2.2"/><circle cx="516.2" cy="49.9" r="2.2"/><circle cx="518.2" cy="44.3" r="2.2"/><circle cx="520.0" cy="38.6" r="2.2"/><circle cx="521.4" cy="32.7" r="2.2"/><circle cx="522.4" cy="26.8" r="2.2"/></g>
<g fill="#fff" stroke="#ff0000" stroke-width="1.7"><circle cx="355.0" cy="446.0" r="4.8"/><circle cx="358.7" cy="441.3" r="4.8"/><circle cx="362.5" cy="436.6" r="4.8"/><circle cx="366.3" cy="432.0" r="4.8"/><circle cx="370.3" cy="427.5" r="4.8"/><circle cx="374.4" cy="423.2" r="4.8"/><circle cx="378.6" cy="418.8" r="4.8"/><circle cx="382.7" cy="414.5" r="4.8"/><circle cx="386.7" cy="410.0" r="4.8"/><circle cx="390.6" cy="405.5" r="4.8"/><circle cx="394.3" cy="400.7" r="4.8"/><circle cx="397.3" cy="395.5" r="4.8"/><circle cx="399.4" cy="389.9" r="4.8"/><circle cx="401.3" cy="384.2" r="4.8"/><circle cx="403.2" cy="378.5" r="4.8"/><circle cx="405.1" cy="372.8" r="4.8"/><circle cx="406.9" cy="367.1" r="4.8"/><circle cx="408.5" cy="361.3" r="4.8"/><circle cx="410.2" cy="355.6" r="4.8"/><circle cx="412.0" cy="349.9" r="4.8"/><circle cx="414.1" cy="344.2" r="4.8"/><circle cx="416.4" cy="338.7" r="4.8"/><circle cx="418.7" cy="333.1" r="4.8"/><circle cx="421.0" cy="327.6" r="4.8"/><circle cx="423.5" cy="322.1" r="4.8"/><circle cx="425.9" cy="316.7" r="4.8"/></g>
<g fill="#fff" stroke="#ff0000" stroke-width="1.7"><circle cx="335.0" cy="410.0" r="4.8"/></g>
<g fill="#fff" stroke="#ff0000" stroke-width="1.7"><circle cx="340.0" cy="420.0" r="4.8"/></g>
<g fill="#fff" stroke="#ff0000" stroke-width="1.7"><circle cx="350.0" cy="443.0" r="4.8"/></g>
<g fill="#fff" stroke="#ff0000" stroke-width="1.7"><circle cx="362.0" cy="446.0" r="4.8"/></g>
<g fill="#fff" stroke="#ff0000" stroke-width="1.7"><circle cx="372.0" cy="440.0" r="4.8"/></g>
<g fill="#fff" stroke="#00ff00" stroke-width="1.7"><path d="M425.3 313.0L429.8 313.0L427.6 309.0Z"/><path d="M428.0 306.6L432.5 306.6L430.3 302.5Z"/><path d="M431.1 300.3L435.6 300.3L433.3 296.2Z"/><path d="M434.3 294.1L438.8 294.1L436.6 290.0Z"/><path d="M437.3 287.7L441.8 287.7L439.6 283.7Z"/><path d="M439.8 281.2L444.3 281.2L442.0 277.1Z"/><path d="M441.9 274.5L446.4 274.5L444.1 270.5Z"/><path d="M443.7 267.8L448.2 267.8L445.9 263.7Z"/><path d="M445.4 261.0L449.9 261.0L447.7 256.9Z"/><path d="M447.1 254.2L451.6 254.2L449.4 250.1Z"/><path d="M448.8 247.4L453.3 247.4L451.1 243.3Z"/><path d="M450.6 240.6L455.1 240.6L452.8 236.6Z"/><path d="M452.4 233.9L456.9 233.9L454.7 229.8Z"/><path d="M454.3 227.1L458.8 227.1L456.5 223.1Z"/><path d="M456.1 220.4L460.6 220.4L458.4 216.3Z"/><path d="M458.0 213.6L462.5 213.6L460.2 209.6Z"/><path d="M459.8 206.9L464.3 206.9L462.1 202.8Z"/><path d="M461.8 200.1L466.3 200.1L464.0 196.1Z"/><path d="M463.7 193.4L468.2 193.4L465.9 189.3Z"/><path d="M465.6 186.7L470.1 186.7L467.8 182.6Z"/><path d="M467.5 179.9L472.0 179.9L469.8 175.9Z"/><path d="M469.5 173.2L474.0 173.2L471.8 169.2Z"/><path d="M471.6 166.5L476.1 166.5L473.8 162.5Z"/><path d="M473.7 159.9L478.2 159.9L476.0 155.8Z"/><path d="M476.0 153.2L480.5 153.2L478.2 149.2Z"/><path d="M478.3 146.6L482.8 146.6L480.5 142.6Z"/><path d="M480.6 140.0L485.1 140.0L482.9 136.0Z"/><path d="M483.0 133.5L487.5 133.5L485.2 129.4Z"/><path d="M485.4 126.9L489.9 126.9L487.6 122.8Z"/><path d="M487.7 120.3L492.2 120.3L490.0 116.2Z"/><path d="M490.1 113.7L494.6 113.7L492.3 109.6Z"/><path d="M492.5 107.1L497.0 107.1L494.8 103.1Z"/><path d="M495.0 100.6L499.5 100.6L497.3 96.5Z"/><path d="M497.7 94.1L502.2 94.1L499.9 90.1Z"/><path d="M500.4 87.6L504.9 87.6L502.6 83.6Z"/><path d="M502.9 81.1L507.4 81.1L505.2 77.1Z"/><path d="M505.4 74.6L509.9 74.6L507.6 70.5Z"/><path d="M507.8 68.0L512.3 68.0L510.0 63.9Z"/><path d="M510.1 61.4L514.6 61.4L512.4 57.4Z"/><path d="M512.6 54.9L517.1 54.9L514.8 50.8Z"/><path d="M515.0 48.3L519.5 48.3L517.3 44.2Z"/><path d="M517.2 41.6L521.7 41.6L519.5 37.6Z"/><path d="M518.9 34.8L523.4 34.8L521.1 30.8Z"/><path d="M520.1 28.0L524.6 28.0L522.4 23.9Z"/></g>
<g fill="#fff" stroke="#00ff00" stroke-width="1.7"><path d="M329.5 450.7L340.5 450.7L335.0 440.8Z"/><path d="M333.5 444.9L344.5 444.9L339.0 435.0Z"/><path d="M337.5 439.2L348.5 439.2L343.0 429.3Z"/><path d="M341.3 433.3L352.3 433.3L346.8 423.4Z"/><path d="M344.9 427.3L355.9 427.3L350.4 417.4Z"/><path d="M348.5 421.3L359.5 421.3L354.0 411.4Z"/><path d="M351.9 415.2L362.9 415.2L357.4 405.3Z"/><path d="M355.4 409.1L366.4 409.1L360.9 399.2Z"/><path d="M360.3 404.1L371.3 404.1L365.8 394.2Z"/><path d="M366.4 400.8L377.4 400.8L371.9 390.9Z"/><path d="M372.9 398.1L383.9 398.1L378.4 388.2Z"/><path d="M379.1 395.0L390.1 395.0L384.6 385.1Z"/><path d="M384.5 390.6L395.5 390.6L390.0 380.7Z"/><path d="M388.7 385.1L399.7 385.1L394.2 375.2Z"/><path d="M392.2 379.0L403.2 379.0L397.7 369.1Z"/><path d="M395.4 372.8L406.4 372.8L400.9 362.9Z"/><path d="M398.5 366.5L409.5 366.5L404.0 356.6Z"/><path d="M401.2 360.0L412.2 360.0L406.7 350.1Z"/><path d="M404.0 353.6L415.0 353.6L409.5 343.7Z"/><path d="M407.4 347.5L418.4 347.5L412.9 337.6Z"/><path d="M410.9 341.4L421.9 341.4L416.4 331.5Z"/><path d="M414.2 335.3L425.2 335.3L419.7 325.4Z"/><path d="M417.0 328.8L428.0 328.8L422.5 318.9Z"/><path d="M419.6 322.3L430.6 322.3L425.1 312.4Z"/></g>
<g fill="#fff" stroke="#00ff00" stroke-width="1.7"><path d="M339.5 444.7L350.5 444.7L345.0 434.8Z"/><path d="M342.4 438.3L353.4 438.3L347.9 428.4Z"/><path d="M345.3 432.0L356.3 432.0L350.8 422.1Z"/><path d="M348.7 425.8L359.7 425.8L354.2 415.9Z"/><path d="M352.4 419.9L363.4 419.9L357.9 410.0Z"/></g>
<g fill="#fff" stroke="#00ff00" stroke-width="1.7"><path d="M335.5 444.7L346.5 444.7L341.0 434.8Z"/></g>
<g fill="#fff" stroke="#00ff00" stroke-width="1.7"><path d="M344.5 432.7L355.5 432.7L350.0 422.8Z"/></g>
<g fill="#fff" stroke="#00ff00" stroke-width="1.7"><path d="M352.5 422.7L363.5 422.7L358.0 412.8Z"/></g>
<g fill="#fff" stroke="#00ff00" stroke-width="1.7"><path d="M360.5 442.7L371.5 442.7L366.0 432.8Z"/></g>
<g fill="#fff" stroke="#0000ff" stroke-width="1.7"><path d="M419.3 306.7L425.3 306.7L422.3 312.1Z"/><path d="M422.0 300.3L428.0 300.3L425.0 305.7Z"/><path d="M424.9 293.9L430.9 293.9L427.9 299.3Z"/><path d="M427.8 287.5L433.8 287.5L430.8 292.9Z"/><path d="M430.4 281.0L436.4 281.0L433.4 286.4Z"/><path d="M432.6 274.4L438.6 274.4L435.6 279.8Z"/><path d="M434.5 267.6L440.5 267.6L437.5 273.0Z"/><path d="M436.3 260.9L442.3 260.9L439.3 266.3Z"/><path d="M438.1 254.1L444.1 254.1L441.1 259.5Z"/><path d="M439.7 247.3L445.7 247.3L442.7 252.7Z"/><path d="M441.5 240.5L447.5 240.5L444.5 245.9Z"/><path d="M443.3 233.8L449.3 233.8L446.3 239.2Z"/><path d="M445.1 227.0L451.1 227.0L448.1 232.4Z"/><path d="M447.0 220.2L453.0 220.2L450.0 225.6Z"/><path d="M448.8 213.5L454.8 213.5L451.8 218.9Z"/><path d="M450.7 206.7L456.7 206.7L453.7 212.1Z"/><path d="M452.6 200.0L458.6 200.0L455.6 205.4Z"/><path d="M454.5 193.3L460.5 193.3L457.5 198.7Z"/><path d="M456.4 186.5L462.4 186.5L459.4 191.9Z"/><path d="M458.3 179.8L464.3 179.8L461.3 185.2Z"/><path d="M460.3 173.1L466.3 173.1L463.3 178.5Z"/><path d="M462.3 166.4L468.3 166.4L465.3 171.8Z"/><path d="M464.4 159.7L470.4 159.7L467.4 165.1Z"/><path d="M466.6 153.0L472.6 153.0L469.6 158.4Z"/><path d="M468.8 146.4L474.8 146.4L471.8 151.8Z"/><path d="M471.2 139.8L477.2 139.8L474.2 145.2Z"/><path d="M473.6 133.2L479.6 133.2L476.6 138.6Z"/><path d="M475.9 126.7L481.9 126.7L478.9 132.1Z"/><path d="M478.3 120.1L484.3 120.1L481.3 125.5Z"/><path d="M480.5 113.4L486.5 113.4L483.5 118.8Z"/><path d="M482.6 106.7L488.6 106.7L485.6 112.1Z"/><path d="M484.6 100.1L490.6 100.1L487.6 105.5Z"/><path d="M487.0 93.5L493.0 93.5L490.0 98.9Z"/><path d="M489.5 86.9L495.5 86.9L492.5 92.3Z"/><path d="M492.1 80.4L498.1 80.4L495.1 85.8Z"/><path d="M494.6 73.9L500.6 73.9L497.6 79.3Z"/><path d="M497.0 67.3L503.0 67.3L500.0 72.7Z"/><path d="M499.4 60.7L505.4 60.7L502.4 66.1Z"/><path d="M501.8 54.2L507.8 54.2L504.8 59.6Z"/><path d="M504.2 47.6L510.2 47.6L507.2 53.0Z"/><path d="M506.6 41.0L512.6 41.0L509.6 46.4Z"/><path d="M508.7 34.3L514.7 34.3L511.7 39.7Z"/><path d="M509.9 27.5L515.9 27.5L512.9 32.9Z"/></g>
<g fill="#fff" stroke="#0000ff" stroke-width="1.7"><path d="M301.2 439.8L308.8 439.8L305.0 446.6Z"/><path d="M307.2 436.2L314.7 436.2L311.0 442.9Z"/><path d="M313.2 432.5L320.7 432.5L316.9 439.2Z"/><path d="M319.2 428.8L326.7 428.8L322.9 435.6Z"/><path d="M325.1 425.2L332.6 425.2L328.9 431.9Z"/><path d="M330.8 421.1L338.3 421.1L334.6 427.9Z"/><path d="M336.1 416.6L343.6 416.6L339.9 423.3Z"/><path d="M341.2 411.8L348.7 411.8L345.0 418.5Z"/><path d="M346.2 406.8L353.7 406.8L349.9 413.6Z"/><path d="M351.2 402.0L358.7 402.0L355.0 408.7Z"/><path d="M356.2 397.0L363.7 397.0L360.0 403.8Z"/><path d="M361.1 392.0L368.6 392.0L364.8 398.8Z"/><path d="M365.8 386.9L373.3 386.9L369.6 393.6Z"/><path d="M370.5 381.7L378.0 381.7L374.3 388.4Z"/><path d="M375.1 376.4L382.6 376.4L378.9 383.2Z"/><path d="M379.8 371.2L387.3 371.2L383.6 378.0Z"/><path d="M384.6 366.1L392.1 366.1L388.3 372.8Z"/><path d="M389.4 361.0L396.9 361.0L393.1 367.8Z"/><path d="M394.1 355.8L401.6 355.8L397.9 362.6Z"/><path d="M398.5 350.4L406.0 350.4L402.3 357.2Z"/><path d="M402.6 344.7L410.1 344.7L406.3 351.5Z"/><path d="M406.2 338.7L413.7 338.7L410.0 345.5Z"/><path d="M409.5 332.5L417.0 332.5L413.2 339.3Z"/><path d="M412.1 326.1L419.6 326.1L415.9 332.8Z"/><path d="M414.2 319.4L421.7 319.4L418.0 326.1Z"/><path d="M416.2 312.7L423.7 312.7L420.0 319.4Z"/></g>
<g fill="#fff" stroke="#0000ff" stroke-width="1.7"><path d="M304.2 437.8L311.8 437.8L308.0 444.6Z"/></g>
<g fill="#fff" stroke="#0000ff" stroke-width="1.7"><path d="M314.2 430.8L321.8 430.8L318.0 437.6Z"/></g>
<g fill="#fff" stroke="#0000ff" stroke-width="1.7"><path d="M323.2 424.8L330.8 424.8L327.0 431.6Z"/></g>
<g fill="#fff" stroke="#0000ff" stroke-width="1.7"><path d="M332.2 436.8L339.8 436.8L336.0 443.6Z"/></g>
<g fill="#fff" stroke="#00ffff" stroke-width="1.7"><path d="M424.2 306.4L427.2 309.4L424.2 312.4L421.2 309.4Z"/><path d="M426.7 299.8L429.7 302.8L426.7 305.8L423.7 302.8Z"/><path d="M429.0 293.2L432.0 296.2L429.0 299.2L426.0 296.2Z"/><path d="M431.1 286.6L434.1 289.6L431.1 292.6L428.1 289.6Z"/><path d="M433.2 279.9L436.2 282.9L433.2 285.9L430.2 282.9Z"/><path d="M435.3 273.2L438.3 276.2L435.3 279.2L432.3 276.2Z"/><path d="M437.1 266.4L440.1 269.4L437.1 272.4L434.1 269.4Z"/><path d="M438.9 259.7L441.9 262.7L438.9 265.7L435.9 262.7Z"/><path d="M440.7 252.9L443.7 255.9L440.7 258.9L437.7 255.9Z"/><path d="M442.4 246.1L445.4 249.1L442.4 252.1L439.4 249.1Z"/><path d="M444.2 239.3L447.2 242.3L444.2 245.3L441.2 242.3Z"/><path d="M446.0 232.6L449.0 235.6L446.0 238.6L443.0 235.6Z"/><path d="M447.8 225.8L450.8 228.8L447.8 231.8L444.8 228.8Z"/><path d="M449.7 219.1L452.7 222.1L449.7 225.1L446.7 222.1Z"/><path d="M451.5 212.3L454.5 215.3L451.5 218.3L448.5 215.3Z"/><path d="M453.4 205.6L456.4 208.6L453.4 211.6L450.4 208.6Z"/><path d="M455.3 198.8L458.3 201.8L455.3 204.8L452.3 201.8Z"/><path d="M457.2 192.1L460.2 195.1L457.2 198.1L454.2 195.1Z"/><path d="M459.1 185.4L462.1 188.4L459.1 191.4L456.1 188.4Z"/><path d="M461.0 178.6L464.0 181.6L461.0 184.6L458.0 181.6Z"/><path d="M463.0 171.9L466.0 174.9L463.0 177.9L460.0 174.9Z"/><path d="M465.0 165.2L468.0 168.2L465.0 171.2L462.0 168.2Z"/><path d="M467.1 158.5L470.1 161.5L467.1 164.5L464.1 161.5Z"/><path d="M469.3 151.9L472.3 154.9L469.3 157.9L466.3 154.9Z"/><path d="M471.6 145.3L474.6 148.3L471.6 151.3L468.6 148.3Z"/><path d="M473.9 138.7L476.9 141.7L473.9 144.7L470.9 141.7Z"/><path d="M476.3 132.1L479.3 135.1L476.3 138.1L473.3 135.1Z"/><path d="M478.7 125.5L481.7 128.5L478.7 131.5L475.7 128.5Z"/><path d="M481.0 118.9L484.0 121.9L481.0 124.9L478.0 121.9Z"/><path d="M483.3 112.3L486.3 115.3L483.3 118.3L480.3 115.3Z"/><path d="M485.3 105.6L488.3 108.6L485.3 111.6L482.3 108.6Z"/><path d="M487.4 98.9L490.4 101.9L487.4 104.9L484.4 101.9Z"/><path d="M489.7 92.3L492.7 95.3L489.7 98.3L486.7 95.3Z"/><path d="M492.3 85.8L495.3 88.8L492.3 91.8L489.3 88.8Z"/><path d="M494.9 79.3L497.9 82.3L494.9 85.3L491.9 82.3Z"/><path d="M497.4 72.8L500.4 75.8L497.4 78.8L494.4 75.8Z"/><path d="M499.8 66.2L502.8 69.2L499.8 72.2L496.8 69.2Z"/><path d="M502.2 59.6L505.2 62.6L502.2 65.6L499.2 62.6Z"/><path d="M504.6 53.0L507.6 56.0L504.6 59.0L501.6 56.0Z"/><path d="M507.0 46.5L510.0 49.5L507.0 52.5L504.0 49.5Z"/><path d="M509.4 39.9L512.4 42.9L509.4 45.9L506.4 42.9Z"/><path d="M511.3 33.2L514.3 36.2L511.3 39.2L508.3 36.2Z"/></g>
<g fill="#fff" stroke="#00ffff" stroke-width="1.7"><path d="M299.0 425.5L302.5 429.0L299.0 432.5L295.5 429.0Z"/><path d="M305.2 422.3L308.7 425.8L305.2 429.3L301.7 425.8Z"/><path d="M311.4 419.0L314.9 422.5L311.4 426.0L307.9 422.5Z"/><path d="M317.5 415.6L321.0 419.1L317.5 422.6L314.0 419.1Z"/><path d="M323.6 412.1L327.1 415.6L323.6 419.1L320.1 415.6Z"/><path d="M329.3 408.1L332.8 411.6L329.3 415.1L325.8 411.6Z"/><path d="M334.6 403.5L338.1 407.0L334.6 410.5L331.1 407.0Z"/><path d="M339.7 398.7L343.2 402.2L339.7 405.7L336.2 402.2Z"/><path d="M344.7 393.8L348.2 397.3L344.7 400.8L341.2 397.3Z"/><path d="M349.6 388.8L353.1 392.3L349.6 395.8L346.1 392.3Z"/><path d="M354.5 383.8L358.0 387.3L354.5 390.8L351.0 387.3Z"/><path d="M359.3 378.7L362.8 382.2L359.3 385.7L355.8 382.2Z"/><path d="M364.1 373.6L367.6 377.1L364.1 380.6L360.6 377.1Z"/><path d="M368.9 368.6L372.4 372.1L368.9 375.6L365.4 372.1Z"/><path d="M373.8 363.5L377.3 367.0L373.8 370.5L370.3 367.0Z"/><path d="M378.7 358.5L382.2 362.0L378.7 365.5L375.2 362.0Z"/><path d="M383.5 353.4L387.0 356.9L383.5 360.4L380.0 356.9Z"/><path d="M388.3 348.3L391.8 351.8L388.3 355.3L384.8 351.8Z"/><path d="M392.9 343.1L396.4 346.6L392.9 350.1L389.4 346.6Z"/><path d="M397.4 337.7L400.9 341.2L397.4 344.7L393.9 341.2Z"/><path d="M401.9 332.4L405.4 335.9L401.9 339.4L398.4 335.9Z"/><path d="M406.5 327.1L410.0 330.6L406.5 334.1L403.0 330.6Z"/><path d="M411.6 322.3L415.1 325.8L411.6 329.3L408.1 325.8Z"/><path d="M416.9 317.7L420.4 321.2L416.9 324.7L413.4 321.2Z"/><path d="M421.1 312.2L424.6 315.7L421.1 319.2L417.6 315.7Z"/></g>
<g fill="#fff" stroke="#ff00ff" stroke-width="1.7"><path d="M409.4 310.4L421.4 304.4L421.4 316.4Z"/><path d="M411.9 305.2L423.9 299.2L423.9 311.2Z"/><path d="M414.1 299.8L426.1 293.8L426.1 305.8Z"/><path d="M416.2 294.4L428.2 288.4L428.2 300.4Z"/><path d="M418.3 289.0L430.3 283.0L430.3 295.0Z"/><path d="M420.9 283.8L432.9 277.8L432.9 289.8Z"/><path d="M422.6 278.3L434.6 272.3L434.6 284.3Z"/><path d="M424.2 272.7L436.2 266.7L436.2 278.7Z"/><path d="M425.7 267.1L437.7 261.1L437.7 273.1Z"/><path d="M427.1 261.5L439.1 255.5L439.1 267.5Z"/><path d="M428.6 255.9L440.6 249.9L440.6 261.9Z"/><path d="M430.1 250.2L442.1 244.2L442.1 256.2Z"/><path d="M431.6 244.6L443.6 238.6L443.6 250.6Z"/><path d="M433.1 239.0L445.1 233.0L445.1 245.0Z"/><path d="M434.6 233.4L446.6 227.4L446.6 239.4Z"/><path d="M436.1 227.8L448.1 221.8L448.1 233.8Z"/><path d="M437.6 222.2L449.6 216.2L449.6 228.2Z"/><path d="M439.1 216.7L451.1 210.7L451.1 222.7Z"/><path d="M440.7 211.1L452.7 205.1L452.7 217.1Z"/><path d="M442.3 205.5L454.3 199.5L454.3 211.5Z"/><path d="M443.8 199.9L455.8 193.9L455.8 205.9Z"/><path d="M445.4 194.3L457.4 188.3L457.4 200.3Z"/><path d="M447.0 188.7L459.0 182.7L459.0 194.7Z"/><path d="M448.6 183.2L460.6 177.2L460.6 189.2Z"/><path d="M450.2 177.6L462.2 171.6L462.2 183.6Z"/><path d="M451.9 172.0L463.9 166.0L463.9 178.0Z"/><path d="M453.6 166.5L465.6 160.5L465.6 172.5Z"/><path d="M455.3 161.0L467.3 155.0L467.3 167.0Z"/><path d="M457.1 155.4L469.1 149.4L469.1 161.4Z"/><path d="M459.0 150.0L471.0 144.0L471.0 156.0Z"/><path d="M460.9 144.5L472.9 138.5L472.9 150.5Z"/><path d="M462.9 139.0L474.9 133.0L474.9 145.0Z"/><path d="M464.8 133.6L476.8 127.6L476.8 139.6Z"/><path d="M466.8 128.1L478.8 122.1L478.8 134.1Z"/><path d="M468.8 122.7L480.8 116.7L480.8 128.7Z"/><path d="M470.7 117.2L482.7 111.2L482.7 123.2Z"/><path d="M472.5 111.7L484.5 105.7L484.5 117.7Z"/><path d="M474.3 106.2L486.3 100.2L486.3 112.2Z"/><path d="M476.2 100.7L488.2 94.7L488.2 106.7Z"/><path d="M478.4 95.3L490.4 89.3L490.4 101.3Z"/><path d="M480.7 90.0L492.7 84.0L492.7 96.0Z"/><path d="M483.0 84.7L495.0 78.7L495.0 90.7Z"/><path d="M485.3 79.3L497.3 73.3L497.3 85.3Z"/><path d="M487.5 74.0L499.5 68.0L499.5 80.0Z"/><path d="M489.7 68.6L501.7 62.6L501.7 74.6Z"/><path d="M491.8 63.2L503.8 57.2L503.8 69.2Z"/><path d="M494.0 57.8L506.0 51.8L506.0 63.8Z"/><path d="M496.2 52.4L508.2 46.4L508.2 58.4Z"/><path d="M498.3 47.1L510.3 41.1L510.3 53.1Z"/><path d="M500.3 41.6L512.3 35.6L512.3 47.6Z"/><path d="M502.0 36.1L514.0 30.1L514.0 42.1Z"/><path d="M503.3 30.4L515.3 24.4L515.3 36.4Z"/><path d="M504.5 24.7L516.5 18.7L516.5 30.7Z"/></g>
<g fill="#fff" stroke="#ff00ff" stroke-width="1.7"><path d="M295.5 421.5L302.5 418.0L302.5 425.0Z"/><path d="M300.5 418.5L307.5 415.0L307.5 422.0Z"/><path d="M305.4 415.5L312.4 412.0L312.4 419.0Z"/><path d="M310.4 412.5L317.4 409.0L317.4 416.0Z"/><path d="M315.3 409.4L322.3 405.9L322.3 412.9Z"/><path d="M320.2 406.3L327.2 402.8L327.2 409.8Z"/><path d="M325.0 403.1L332.0 399.6L332.0 406.6Z"/><path d="M329.7 399.6L336.7 396.1L336.7 403.1Z"/><path d="M334.2 396.0L341.2 392.5L341.2 399.5Z"/><path d="M338.5 392.0L345.5 388.5L345.5 395.5Z"/><path d="M342.6 388.0L349.6 384.5L349.6 391.5Z"/><path d="M346.7 383.9L353.7 380.4L353.7 387.4Z"/><path d="M350.8 379.8L357.8 376.3L357.8 383.3Z"/><path d="M354.8 375.6L361.8 372.1L361.8 379.1Z"/><path d="M359.0 371.5L366.0 368.0L366.0 375.0Z"/><path d="M363.1 367.5L370.1 364.0L370.1 371.0Z"/><path d="M367.4 363.5L374.4 360.0L374.4 367.0Z"/><path d="M371.6 359.6L378.6 356.1L378.6 363.1Z"/><path d="M375.8 355.6L382.8 352.1L382.8 359.1Z"/><path d="M380.0 351.6L387.0 348.1L387.0 355.1Z"/><path d="M384.0 347.4L391.0 343.9L391.0 350.9Z"/><path d="M387.8 343.1L394.8 339.6L394.8 346.6Z"/><path d="M391.5 338.6L398.5 335.1L398.5 342.1Z"/><path d="M395.1 334.0L402.1 330.5L402.1 337.5Z"/><path d="M398.7 329.5L405.7 326.0L405.7 333.0Z"/><path d="M402.2 324.9L409.2 321.4L409.2 328.4Z"/><path d="M405.7 320.2L412.7 316.7L412.7 323.7Z"/><path d="M408.9 315.4L415.9 311.9L415.9 318.9Z"/></g>
<path d="M404.0 456.0 L404.0 455.8 L404.0 455.6 L404.1 455.3 L404.1 455.1 L404.1 454.7 L404.2 454.4 L404.2 454.0 L404.3 453.7 L404.3 453.3 L404.4 452.9 L404.4 452.4 L404.5 452.0 L404.6 451.6 L404.7 451.1 L404.8 450.6 L404.9 450.2 L405.0 449.7 L405.1 449.2 L405.2 448.6 L405.3 448.1 L405.4 447.5 L405.6 446.8 L405.7 446.2 L405.8 445.5 L405.9 444.8 L406.0 444.0 L406.2 443.3 L406.3 442.5 L406.4 441.6 L406.5 440.8 L406.6 439.9 L406.8 439.0 L406.9 438.0 L407.1 437.1 L407.3 436.0 L407.5 435.0 L407.7 433.9 L408.0 432.8 L408.2 431.7 L408.5 430.5 L408.8 429.3 L409.0 428.1 L409.3 426.8 L409.7 425.5 L410.0 424.2 L410.3 422.8 L410.7 421.4 L411.0 420.0 L411.4 418.5 L411.7 417.0 L412.1 415.4 L412.5 413.7 L413.0 412.0 L413.4 410.3 L413.8 408.6 L414.3 406.9 L414.7 405.1 L415.1 403.4 L415.6 401.7 L416.0 400.0 L416.4 398.3 L416.9 396.7 L417.3 395.0 L417.8 393.3 L418.2 391.7 L418.7 390.0 L419.2 388.3 L419.6 386.7 L420.0 385.0 L420.5 383.3 L420.9 381.7 L421.3 380.0 L421.7 378.3 L422.1 376.7 L422.4 375.0 L422.8 373.3 L423.2 371.7 L423.5 370.0 L423.9 368.3 L424.2 366.7 L424.5 365.0 L424.9 363.3 L425.2 361.7 L425.5 360.0 L425.8 358.3 L426.1 356.6 L426.4 355.0 L426.7 353.3 L427.0 351.6 L427.3 349.9 L427.6 348.2 L427.9 346.5 L428.2 344.9 L428.5 343.2 L428.7 341.6 L429.0 340.0 L429.3 338.4 L429.6 336.9 L429.9 335.5 L430.2 334.0 L430.5 332.6 L430.8 331.1 L431.1 329.7 L431.3 328.2 L431.6 326.7 L431.8 325.2 L431.9 323.6 L432.0 322.0 L432.0 320.3 L431.9 318.5 L431.7 316.7 L431.5 314.9 L431.2 313.0 L431.0 311.1 L430.7 309.2 L430.5 307.3 L430.4 305.5 L430.3 303.6 L430.4 301.8 L430.6 300.0 L430.9 298.3 L431.4 296.8 L432.0 295.3 L432.6 293.9 L433.3 292.5 L434.0 291.1 L434.8 289.6 L435.7 288.1 L436.5 286.4 L437.4 284.5 L438.2 282.4 L439.0 280.0 L439.8 277.4 L440.6 274.5 L441.5 271.4 L442.4 268.1 L443.3 264.8 L444.2 261.2 L445.1 257.7 L446.0 254.1 L447.0 250.5 L447.9 246.9 L448.8 243.4 L449.7 240.0 L450.6 236.7 L451.5 233.3 L452.4 230.0 L453.3 226.7 L454.2 223.3 L455.1 220.0 L456.0 216.7 L457.0 213.3 L457.9 210.0 L458.8 206.7 L459.8 203.3 L460.7 200.0 L461.6 196.7 L462.6 193.3 L463.5 190.0 L464.5 186.7 L465.4 183.3 L466.4 180.0 L467.4 176.7 L468.4 173.3 L469.4 170.0 L470.4 166.7 L471.4 163.3 L472.5 160.0 L473.6 156.6 L474.8 153.0 L476.1 149.4 L477.4 145.7 L478.7 142.1 L480.0 138.4 L481.3 134.9 L482.5 131.5 L483.7 128.2 L484.8 125.2 L485.7 122.5 L486.6 120.0 L487.3 117.8 L488.0 115.9 L488.6 114.1 L489.0 112.6 L489.5 111.2 L489.8 110.0 L490.2 108.9 L490.4 108.0 L490.7 107.1 L490.9 106.3 L491.1 105.6 L491.3 105.0" fill="none" stroke="#000000" stroke-width="5.4" stroke-linejoin="round"/>
<path d="M372.0 456.0 L372.1 455.8 L372.3 455.5 L372.5 455.2 L372.7 455.0 L372.9 454.6 L373.1 454.2 L373.4 453.8 L373.7 453.3 L374.0 452.6 L374.4 451.9 L374.9 451.0 L375.4 450.0 L376.0 448.8 L376.6 447.5 L377.3 446.0 L378.0 444.4 L378.7 442.7 L379.5 440.9 L380.4 439.0 L381.2 437.2 L382.1 435.3 L383.1 433.5 L384.0 431.7 L385.0 430.0 L386.0 428.3 L387.1 426.7 L388.3 425.0 L389.5 423.3 L390.7 421.7 L392.0 420.0 L393.2 418.3 L394.5 416.7 L395.7 415.0 L396.8 413.3 L398.0 411.7 L399.0 410.0 L400.0 408.3 L401.0 406.7 L401.9 405.0 L402.8 403.3 L403.7 401.7 L404.6 400.0 L405.4 398.3 L406.2 396.7 L406.9 395.0 L407.7 393.3 L408.4 391.7 L409.0 390.0 L409.6 388.3 L410.1 386.7 L410.5 385.0 L411.0 383.3 L411.3 381.7 L411.7 380.0 L412.0 378.3 L412.3 376.7 L412.7 375.0 L413.1 373.3 L413.5 371.7 L414.0 370.0 L414.5 368.3 L415.1 366.7 L415.7 365.0 L416.3 363.3 L417.0 361.7 L417.6 360.0 L418.3 358.3 L418.9 356.7 L419.6 355.0 L420.2 353.3 L420.8 351.7 L421.3 350.0 L421.8 348.4 L422.3 346.8 L422.8 345.2 L423.3 343.7 L423.8 342.2 L424.2 340.6 L424.7 339.0 L425.1 337.4 L425.5 335.7 L425.9 333.9 L426.3 332.0 L426.7 330.0 L427.1 327.8 L427.4 325.5 L427.7 323.0 L427.9 320.4 L428.2 317.7 L428.5 315.0 L428.7 312.3 L429.0 309.6 L429.3 307.0 L429.7 304.5 L430.1 302.2 L430.6 300.0 L431.1 298.0 L431.7 296.3 L432.3 294.8 L433.0 293.3 L433.7 292.0 L434.4 290.6 L435.1 289.2 L435.9 287.8 L436.6 286.2 L437.4 284.4 L438.2 282.3 L439.0 280.0 L439.8 277.4 L440.6 274.5 L441.5 271.4 L442.4 268.1 L443.3 264.8 L444.2 261.2 L445.1 257.7 L446.0 254.1 L447.0 250.5 L447.9 246.9 L448.8 243.4 L449.7 240.0 L450.6 236.7 L451.5 233.3 L452.4 230.0 L453.3 226.7 L454.2 223.3 L455.1 220.0 L456.0 216.7 L457.0 213.3 L457.9 210.0 L458.8 206.7 L459.8 203.3 L460.7 200.0 L461.6 196.7 L462.6 193.3 L463.5 190.0 L464.5 186.7 L465.4 183.3 L466.4 180.0 L467.4 176.7 L468.4 173.3 L469.4 170.0 L470.4 166.7 L471.4 163.3 L472.5 160.0 L473.6 156.6 L474.8 153.0 L476.1 149.4 L477.4 145.7 L478.7 142.1 L480.0 138.4 L481.3 134.9 L482.5 131.5 L483.7 128.2 L484.8 125.2 L485.7 122.5 L486.6 120.0 L487.3 117.8 L488.0 115.9 L488.6 114.1 L489.0 112.6 L489.5 111.2 L489.8 110.0 L490.2 108.9 L490.4 108.0 L490.7 107.1 L490.9 106.3 L491.1 105.6 L491.3 105.0" fill="none" stroke="#ff0000" stroke-width="5.6" stroke-linejoin="round"/>
<path d="M333.0 456.0 L333.1 455.8 L333.2 455.5 L333.2 455.2 L333.3 455.0 L333.4 454.6 L333.5 454.2 L333.7 453.8 L334.0 453.3 L334.3 452.6 L334.7 451.9 L335.3 451.0 L336.0 450.0 L336.9 448.8 L337.9 447.5 L339.0 446.0 L340.3 444.4 L341.6 442.7 L343.0 440.9 L344.5 439.0 L345.9 437.2 L347.4 435.3 L348.8 433.5 L350.2 431.7 L351.5 430.0 L352.7 428.3 L354.0 426.7 L355.2 425.0 L356.5 423.3 L357.7 421.7 L358.9 420.0 L360.1 418.3 L361.3 416.7 L362.5 415.0 L363.7 413.3 L364.8 411.7 L366.0 410.0 L367.1 408.3 L368.3 406.7 L369.4 405.0 L370.4 403.3 L371.5 401.7 L372.6 400.0 L373.7 398.3 L374.7 396.7 L375.8 395.0 L376.9 393.3 L377.9 391.7 L379.0 390.0 L380.1 388.3 L381.2 386.7 L382.2 385.0 L383.3 383.3 L384.4 381.7 L385.5 380.0 L386.6 378.3 L387.7 376.7 L388.8 375.0 L389.8 373.3 L390.9 371.7 L392.0 370.0 L393.1 368.3 L394.2 366.7 L395.3 365.0 L396.4 363.3 L397.5 361.7 L398.6 360.0 L399.7 358.3 L400.8 356.7 L401.9 355.0 L402.9 353.3 L404.0 351.7 L405.0 350.0 L406.0 348.3 L406.9 346.7 L407.9 345.0 L408.8 343.3 L409.7 341.7 L410.6 340.0 L411.4 338.3 L412.3 336.7 L413.2 335.0 L414.1 333.3 L415.1 331.7 L416.0 330.0 L417.0 328.4 L418.0 326.8 L419.0 325.2 L420.1 323.7 L421.1 322.2 L422.2 320.6 L423.2 319.0 L424.2 317.4 L425.2 315.7 L426.2 313.9 L427.1 312.0 L428.0 310.0 L428.8 307.9 L429.6 305.7 L430.3 303.4 L431.0 301.1 L431.6 298.7 L432.3 296.2 L432.9 293.7 L433.6 291.1 L434.2 288.4 L434.9 285.7 L435.6 282.9 L436.4 280.0 L437.2 277.0 L438.0 273.9 L438.9 270.7 L439.8 267.4 L440.7 264.0 L441.6 260.6 L442.5 257.2 L443.4 253.7 L444.4 250.2 L445.3 246.8 L446.2 243.4 L447.1 240.0 L448.0 236.7 L448.9 233.3 L449.8 230.0 L450.7 226.7 L451.6 223.3 L452.5 220.0 L453.4 216.7 L454.4 213.3 L455.3 210.0 L456.2 206.7 L457.2 203.3 L458.1 200.0 L459.0 196.7 L460.0 193.3 L460.9 190.0 L461.9 186.7 L462.8 183.3 L463.8 180.0 L464.8 176.7 L465.8 173.3 L466.8 170.0 L467.8 166.7 L468.8 163.3 L469.9 160.0 L471.0 156.6 L472.2 153.0 L473.5 149.3 L474.8 145.6 L476.1 141.9 L477.5 138.2 L478.8 134.7 L480.0 131.3 L481.2 128.0 L482.2 125.0 L483.2 122.4 L484.0 120.0 L484.7 118.0 L485.2 116.3 L485.5 114.9 L485.8 113.8 L486.0 112.8 L486.2 112.0 L486.3 111.3 L486.5 110.7 L486.6 110.1 L486.8 109.4 L487.1 108.8 L487.5 108.0 L487.9 107.2 L488.4 106.6 L488.9 106.0 L489.5 105.5 L490.0 105.0 L490.6 104.5 L491.2 104.0 L491.8 103.4 L492.5 102.8 L493.1 102.0 L493.7 101.1 L494.4 100.0 L495.1 98.8 L495.8 97.4 L496.5 95.8 L497.3 94.2 L498.1 92.5 L498.8 90.8 L499.6 88.9 L500.4 87.1 L501.1 85.3 L501.9 83.5 L502.5 81.7 L503.2 80.0 L503.8 78.3 L504.4 76.7 L505.0 75.0 L505.5 73.3 L506.1 71.7 L506.6 70.0 L507.1 68.3 L507.6 66.7 L508.1 65.0 L508.6 63.3 L509.1 61.7 L509.6 60.0 L510.1 58.3 L510.6 56.6 L511.1 55.0 L511.7 53.3 L512.2 51.6 L512.7 49.9 L513.2 48.2 L513.7 46.5 L514.1 44.9 L514.6 43.2 L515.1 41.6 L515.5 40.0 L515.9 38.4 L516.4 36.7 L516.8 34.9 L517.3 33.2 L517.7 31.4 L518.1 29.8 L518.5 28.1 L518.9 26.6 L519.2 25.2 L519.5 23.9 L519.8 22.9 L520.0 22.0" fill="none" stroke="#00ff00" stroke-width="3.4" stroke-linejoin="round"/>
<path d="M299.0 437.5 L299.8 437.1 L300.8 436.6 L301.9 436.0 L303.2 435.3 L304.6 434.6 L306.1 433.8 L307.6 433.0 L309.1 432.2 L310.7 431.4 L312.2 430.5 L313.7 429.8 L315.0 429.0 L316.3 428.3 L317.6 427.5 L318.9 426.8 L320.2 426.1 L321.5 425.3 L322.8 424.6 L324.0 423.8 L325.3 423.1 L326.5 422.3 L327.7 421.6 L328.9 420.8 L330.0 420.0 L331.1 419.2 L332.2 418.4 L333.2 417.7 L334.1 416.9 L335.1 416.1 L336.1 415.3 L337.0 414.5 L338.0 413.7 L338.9 412.8 L339.9 411.9 L340.9 411.0 L342.0 410.0 L343.1 409.0 L344.2 408.0 L345.3 406.9 L346.4 405.9 L347.5 404.8 L348.6 403.7 L349.8 402.5 L351.0 401.3 L352.2 400.1 L353.4 398.8 L354.7 397.4 L356.0 396.0 L357.4 394.5 L358.7 392.9 L360.2 391.3 L361.6 389.6 L363.1 387.9 L364.6 386.1 L366.1 384.3 L367.7 382.5 L369.2 380.6 L370.8 378.8 L372.4 376.9 L374.0 375.0 L375.6 373.1 L377.3 371.1 L379.0 369.1 L380.8 367.1 L382.6 365.1 L384.4 363.0 L386.1 360.9 L387.9 358.9 L389.6 356.9 L391.3 354.9 L392.9 352.9 L394.4 351.0 L395.9 349.1 L397.3 347.3 L398.7 345.5 L400.0 343.7 L401.3 342.0 L402.5 340.2 L403.8 338.5 L405.0 336.8 L406.3 335.1 L407.5 333.4 L408.7 331.7 L410.0 330.0 L411.3 328.3 L412.6 326.7 L413.9 325.2 L415.2 323.6 L416.5 322.1 L417.8 320.6 L419.0 319.0 L420.3 317.4 L421.5 315.7 L422.7 313.9 L423.9 312.0 L425.0 310.0 L426.1 307.9 L427.1 305.7 L428.1 303.4 L429.0 301.1 L430.0 298.7 L430.9 296.2 L431.8 293.7 L432.6 291.1 L433.5 288.4 L434.4 285.7 L435.3 282.9 L436.2 280.0 L437.1 277.0 L438.0 273.9 L438.9 270.7 L439.8 267.4 L440.7 264.0 L441.6 260.6 L442.4 257.2 L443.3 253.7 L444.2 250.2 L445.1 246.8 L446.0 243.4 L446.9 240.0 L447.8 236.7 L448.7 233.3 L449.6 230.0 L450.5 226.7 L451.4 223.3 L452.3 220.0 L453.2 216.7 L454.2 213.3 L455.1 210.0 L456.0 206.7 L457.0 203.3 L457.9 200.0 L458.8 196.7 L459.8 193.3 L460.7 190.0 L461.7 186.7 L462.6 183.3 L463.6 180.0 L464.6 176.7 L465.6 173.3 L466.6 170.0 L467.6 166.7 L468.6 163.3 L469.7 160.0 L470.8 156.6 L472.0 153.0 L473.3 149.3 L474.6 145.6 L475.9 141.9 L477.3 138.2 L478.5 134.7 L479.8 131.3 L480.9 128.0 L482.0 125.0 L483.0 122.4 L483.8 120.0 L484.5 118.0 L485.1 116.2 L485.6 114.8 L486.0 113.5 L486.3 112.4 L486.6 111.5 L486.8 110.7 L487.0 110.1 L487.1 109.5 L487.3 109.0 L487.4 108.5 L487.6 108.0" fill="none" stroke="#0000ff" stroke-width="6.5" stroke-linejoin="round"/>
<path d="M299.0 429.0 L299.8 428.6 L300.8 428.1 L301.9 427.5 L303.2 426.8 L304.6 426.1 L306.1 425.3 L307.6 424.5 L309.1 423.7 L310.7 422.9 L312.2 422.1 L313.7 421.3 L315.0 420.5 L316.3 419.8 L317.5 419.1 L318.8 418.4 L320.0 417.7 L321.2 417.0 L322.4 416.3 L323.6 415.5 L324.8 414.8 L326.1 413.9 L327.3 413.0 L328.6 412.1 L330.0 411.0 L331.4 409.9 L332.8 408.7 L334.2 407.4 L335.7 406.1 L337.1 404.7 L338.6 403.3 L340.1 401.8 L341.7 400.3 L343.2 398.8 L344.8 397.2 L346.4 395.6 L348.0 394.0 L349.6 392.3 L351.3 390.6 L353.1 388.8 L354.8 387.0 L356.6 385.1 L358.4 383.2 L360.2 381.3 L362.0 379.4 L363.8 377.5 L365.5 375.7 L367.3 373.8 L369.0 372.0 L370.7 370.2 L372.4 368.4 L374.1 366.7 L375.8 364.9 L377.5 363.2 L379.2 361.4 L380.9 359.7 L382.5 358.0 L384.2 356.2 L385.8 354.5 L387.4 352.7 L389.0 351.0 L390.6 349.2 L392.1 347.5 L393.7 345.7 L395.2 344.0 L396.7 342.2 L398.2 340.4 L399.7 338.7 L401.2 336.9 L402.7 335.2 L404.1 333.4 L405.6 331.7 L407.0 330.0 L408.4 328.3 L409.8 326.7 L411.2 325.2 L412.6 323.6 L414.0 322.1 L415.4 320.6 L416.7 319.0 L418.1 317.4 L419.4 315.7 L420.6 313.9 L421.8 312.0 L423.0 310.0 L424.1 307.9 L425.2 305.7 L426.2 303.4 L427.2 301.1 L428.2 298.7 L429.1 296.2 L430.1 293.7 L431.0 291.1 L431.9 288.4 L432.8 285.7 L433.7 282.9 L434.6 280.0 L435.5 277.0 L436.4 273.9 L437.3 270.7 L438.2 267.4 L439.1 264.0 L440.0 260.6 L440.9 257.2 L441.7 253.7 L442.6 250.2 L443.5 246.8 L444.4 243.4 L445.3 240.0 L446.2 236.7 L447.1 233.3 L448.0 230.0 L448.9 226.7 L449.8 223.3 L450.7 220.0 L451.6 216.7 L452.6 213.3 L453.5 210.0 L454.4 206.7 L455.4 203.3 L456.3 200.0 L457.2 196.7 L458.2 193.3 L459.1 190.0 L460.1 186.7 L461.0 183.3 L462.0 180.0 L463.0 176.7 L464.0 173.3 L465.0 170.0 L466.0 166.7 L467.0 163.3 L468.1 160.0 L469.2 156.6 L470.4 153.1 L471.7 149.4 L473.0 145.8 L474.3 142.1 L475.6 138.5 L476.9 135.0 L478.1 131.6 L479.3 128.3 L480.3 125.3 L481.3 122.5 L482.2 120.0 L483.0 117.8 L483.6 115.8 L484.2 113.9 L484.7 112.3 L485.2 110.8 L485.6 109.5 L486.0 108.3 L486.3 107.3 L486.5 106.3 L486.8 105.5 L487.0 104.7 L487.2 104.0" fill="none" stroke="#00ffff" stroke-width="4.5" stroke-linejoin="round"/>
<path d="M299.0 421.5 L299.7 421.1 L300.5 420.6 L301.4 420.0 L302.5 419.4 L303.7 418.7 L304.9 417.9 L306.2 417.1 L307.6 416.3 L309.0 415.5 L310.3 414.7 L311.7 413.8 L313.0 413.0 L314.3 412.2 L315.7 411.3 L317.2 410.4 L318.6 409.5 L320.1 408.5 L321.6 407.6 L323.1 406.6 L324.6 405.7 L326.0 404.7 L327.4 403.8 L328.7 402.9 L330.0 402.0 L331.1 401.2 L332.2 400.4 L333.1 399.7 L334.0 399.0 L334.9 398.3 L335.8 397.6 L336.6 396.9 L337.5 396.1 L338.5 395.2 L339.5 394.3 L340.7 393.2 L342.0 392.0 L343.4 390.6 L345.0 389.1 L346.6 387.5 L348.3 385.9 L350.0 384.1 L351.8 382.2 L353.7 380.4 L355.5 378.5 L357.4 376.6 L359.3 374.7 L361.2 372.8 L363.0 371.0 L364.9 369.2 L366.8 367.4 L368.7 365.5 L370.7 363.6 L372.7 361.8 L374.7 359.9 L376.6 358.0 L378.6 356.1 L380.5 354.3 L382.4 352.5 L384.2 350.7 L386.0 349.0 L387.7 347.3 L389.4 345.7 L391.0 344.1 L392.6 342.5 L394.1 340.9 L395.7 339.4 L397.2 337.8 L398.6 336.3 L400.1 334.8 L401.6 333.2 L403.0 331.6 L404.5 330.0 L406.0 328.4 L407.4 326.8 L408.9 325.3 L410.3 323.8 L411.7 322.2 L413.1 320.7 L414.5 319.1 L415.9 317.4 L417.2 315.7 L418.5 313.9 L419.8 312.0 L421.0 310.0 L422.2 307.9 L423.3 305.7 L424.5 303.4 L425.6 301.1 L426.6 298.7 L427.7 296.2 L428.7 293.7 L429.7 291.1 L430.7 288.4 L431.7 285.7 L432.6 282.9 L433.6 280.0 L434.6 277.0 L435.5 273.9 L436.4 270.7 L437.3 267.4 L438.2 264.0 L439.1 260.6 L439.9 257.2 L440.8 253.7 L441.6 250.2 L442.5 246.8 L443.4 243.4 L444.3 240.0 L445.2 236.7 L446.1 233.3 L447.0 230.0 L447.9 226.7 L448.8 223.3 L449.7 220.0 L450.6 216.7 L451.6 213.3 L452.5 210.0 L453.4 206.7 L454.4 203.3 L455.3 200.0 L456.2 196.7 L457.2 193.3 L458.1 190.0 L459.1 186.7 L460.0 183.3 L461.0 180.0 L462.0 176.7 L463.0 173.3 L464.0 170.0 L465.0 166.7 L466.0 163.3 L467.1 160.0 L468.2 156.6 L469.4 153.1 L470.6 149.5 L471.9 145.9 L473.2 142.3 L474.5 138.8 L475.8 135.2 L477.0 131.9 L478.2 128.6 L479.3 125.5 L480.3 122.6 L481.2 120.0 L482.0 117.6 L482.8 115.3 L483.5 113.1 L484.1 111.1 L484.7 109.2 L485.2 107.5 L485.7 105.9 L486.2 104.4 L486.6 103.1 L486.9 101.9 L487.2 100.9 L487.5 100.0" fill="none" stroke="#ff00ff" stroke-width="8.0" stroke-linejoin="round"/>
</g>
<path d="M488.7 110.0 L488.8 109.5 L488.9 109.0 L489.1 108.4 L489.3 107.8 L489.5 107.0 L489.7 106.2 L490.0 105.4 L490.3 104.4 L490.6 103.4 L491.0 102.4 L491.4 101.2 L491.8 100.0 L492.3 98.7 L492.8 97.2 L493.4 95.7 L494.1 94.1 L494.7 92.4 L495.4 90.6 L496.1 88.8 L496.9 87.0 L497.6 85.2 L498.3 83.4 L499.0 81.7 L499.6 80.0 L500.2 78.3 L500.8 76.7 L501.5 75.0 L502.1 73.3 L502.7 71.7 L503.3 70.0 L503.9 68.3 L504.5 66.7 L505.1 65.0 L505.7 63.3 L506.3 61.7 L506.9 60.0 L507.5 58.3 L508.1 56.7 L508.8 55.0 L509.4 53.3 L510.1 51.7 L510.7 50.0 L511.3 48.3 L511.9 46.7 L512.5 45.0 L513.1 43.3 L513.6 41.7 L514.1 40.0 L514.6 38.3 L515.0 36.4 L515.5 34.5 L515.9 32.6 L516.3 30.7 L516.7 28.8 L517.0 26.9 L517.4 25.2 L517.7 23.6 L517.9 22.2 L518.2 21.0 L518.4 20.0" fill="none" stroke="#00ffff" stroke-width="1.4" clip-path="url(#cmR)"/>
<g fill="none" stroke="#000" stroke-width="3.8"><path d="M144.8 321.7 H437" stroke-dasharray="13.5 8.6"/><path d="M147.2 319.9 V448" stroke-dasharray="13 9.2"/><path d="M433.4 321.3 V448" stroke-dasharray="13 9.2"/><path d="M147.7 446.7 H436" stroke-dasharray="12.5 9.3"/><path d="M173.8 273.5 L146.8 320" stroke-dasharray="12.5 9.8"/><path d="M415 270 L433 323" stroke-dasharray="11 11.5"/></g>
<g fill="none" stroke="#000"><path d="M76.6 452.8 L76.6 11 L517.8 11 L517.8 452.8 Z" stroke-width="2.8"/></g>
<path d="M77 11.2H87M77 54.6H82M77 43.7H82M77 35.9H82M77 29.9H82M77 25.0H82M77 20.8H82M77 17.2H82M77 14.0H82M77 73.3H87M77 116.7H82M77 105.7H82M77 98.0H82M77 92.0H82M77 87.0H82M77 82.9H82M77 79.3H82M77 76.1H82M77 135.3H87M77 178.7H82M77 167.8H82M77 160.0H82M77 154.0H82M77 149.1H82M77 145.0H82M77 141.4H82M77 138.2H82M77 197.4H87M77 240.8H82M77 229.9H82M77 222.1H82M77 216.1H82M77 211.2H82M77 207.0H82M77 203.4H82M77 200.3H82M77 259.5H87M77 302.9H82M77 291.9H82M77 284.2H82M77 278.2H82M77 273.3H82M77 269.1H82M77 265.5H82M77 262.3H82M77 321.6H87M77 364.9H82M77 354.0H82M77 346.3H82M77 340.2H82M77 335.3H82M77 331.2H82M77 327.6H82M77 324.4H82M77 383.6H87M77 427.0H82M77 416.1H82M77 408.3H82M77 402.3H82M77 397.4H82M77 393.2H82M77 389.6H82M77 386.5H82M77 445.7H87M81.1 452.8V442.5M128.4 452.8V442.5M175.7 452.8V442.5M223.0 452.8V442.5M270.3 452.8V442.5M104.8 452.8V447M152.0 452.8V447M199.3 452.8V447M246.6 452.8V447M300.1 452.8V442.5M342.9 452.8V442.5M385.7 452.8V442.5M428.5 452.8V442.5M471.3 452.8V442.5M514.1 452.8V442.5M321.5 452.8V447M364.3 452.8V447M407.1 452.8V447M449.9 452.8V447M492.7 452.8V447" stroke="#000" stroke-width="2.4" fill="none"/>
<text x="81.1" y="480" font-family="Liberation Serif, Times New Roman, serif" font-size="22" text-anchor="middle" stroke="#000" stroke-width="0.5">-7</text>
<text x="128.4" y="480" font-family="Liberation Serif, Times New Roman, serif" font-size="22" text-anchor="middle" stroke="#000" stroke-width="0.5">-6</text>
<text x="175.7" y="480" font-family="Liberation Serif, Times New Roman, serif" font-size="22" text-anchor="middle" stroke="#000" stroke-width="0.5">-5</text>
<text x="223.0" y="480" font-family="Liberation Serif, Times New Roman, serif" font-size="22" text-anchor="middle" stroke="#000" stroke-width="0.5">-4</text>
<text x="270.3" y="480" font-family="Liberation Serif, Times New Roman, serif" font-size="22" text-anchor="middle" stroke="#000" stroke-width="0.5">-3</text>
<text x="300.1" y="480" font-family="Liberation Serif, Times New Roman, serif" font-size="22" text-anchor="middle" stroke="#000" stroke-width="0.5">2</text>
<text x="342.9" y="480" font-family="Liberation Serif, Times New Roman, serif" font-size="22" text-anchor="middle" stroke="#000" stroke-width="0.5">3</text>
<text x="385.7" y="480" font-family="Liberation Serif, Times New Roman, serif" font-size="22" text-anchor="middle" stroke="#000" stroke-width="0.5">4</text>
<text x="428.5" y="480" font-family="Liberation Serif, Times New Roman, serif" font-size="22" text-anchor="middle" stroke="#000" stroke-width="0.5">5</text>
<text x="471.3" y="480" font-family="Liberation Serif, Times New Roman, serif" font-size="22" text-anchor="middle" stroke="#000" stroke-width="0.5">6</text>
<text x="514.1" y="480" font-family="Liberation Serif, Times New Roman, serif" font-size="22" text-anchor="middle" stroke="#000" stroke-width="0.5">7</text>
<text x="65" y="19.7" font-family="Liberation Serif, Times New Roman, serif" font-size="22" text-anchor="end" stroke="#000" stroke-width="0.4">10<tspan font-size="12.8" dy="-10.5">-3</tspan></text>
<text x="65" y="81.8" font-family="Liberation Serif, Times New Roman, serif" font-size="22" text-anchor="end" stroke="#000" stroke-width="0.4">10<tspan font-size="12.8" dy="-10.5">-4</tspan></text>
<text x="65" y="143.8" font-family="Liberation Serif, Times New Roman, serif" font-size="22" text-anchor="end" stroke="#000" stroke-width="0.4">10<tspan font-size="12.8" dy="-10.5">-5</tspan></text>
<text x="65" y="205.9" font-family="Liberation Serif, Times New Roman, serif" font-size="22" text-anchor="end" stroke="#000" stroke-width="0.4">10<tspan font-size="12.8" dy="-10.5">-6</tspan></text>
<text x="65" y="268.0" font-family="Liberation Serif, Times New Roman, serif" font-size="22" text-anchor="end" stroke="#000" stroke-width="0.4">10<tspan font-size="12.8" dy="-10.5">-7</tspan></text>
<text x="65" y="330.1" font-family="Liberation Serif, Times New Roman, serif" font-size="22" text-anchor="end" stroke="#000" stroke-width="0.4">10<tspan font-size="12.8" dy="-10.5">-8</tspan></text>
<text x="65" y="392.1" font-family="Liberation Serif, Times New Roman, serif" font-size="22" text-anchor="end" stroke="#000" stroke-width="0.4">10<tspan font-size="12.8" dy="-10.5">-9</tspan></text>
<text x="65" y="454.2" font-family="Liberation Serif, Times New Roman, serif" font-size="22" text-anchor="end" stroke="#000" stroke-width="0.4">10<tspan font-size="12.8" dy="-10.5">-10</tspan></text>
<text x="288.5" y="511.5" font-family="Liberation Serif, Times New Roman, serif" font-size="26" text-anchor="middle" stroke="#000" stroke-width="0.5"><tspan font-style="italic">U</tspan> (V)</text>
<text transform="translate(23 241.6) rotate(-90)" font-family="Liberation Serif, Times New Roman, serif" font-size="25" text-anchor="middle" stroke="#000" stroke-width="0.45"><tspan font-style="italic">J</tspan> (A/cm<tspan font-size="16" dy="-10.5">2</tspan><tspan dy="10.5">)</tspan></text>
<text x="276.6" y="356.3" font-family="Liberation Serif, Times New Roman, serif" font-size="16.5" font-weight="bold" textLength="34.6" lengthAdjust="spacingAndGlyphs">SILC</text>
<text transform="translate(442 157.5) rotate(-69)" font-family="Liberation Serif, Times New Roman, serif" font-size="15.9" font-weight="bold">Fowler-Nordheim</text>
<path d="M466.9 118.2 C478 120 488 126 493 135 C497 143 492 148 486 146.5 C478 145 468 140 459.5 132.3" fill="none" stroke="#000" stroke-width="2.8" stroke-linecap="round"/>
<rect x="177.8" y="17" width="236.6" height="248.7" fill="#fff"/>
<g clip-path="url(#ciL)">
<g fill="#fff" stroke="#000000" stroke-width="1.6"><rect x="185.1" y="18.4" width="7.2" height="7.2"/><rect x="185.7" y="28.4" width="7.2" height="7.2"/><rect x="186.3" y="38.3" width="7.2" height="7.2"/><rect x="187.0" y="48.3" width="7.2" height="7.2"/><rect x="187.9" y="58.3" width="7.2" height="7.2"/><rect x="189.0" y="68.2" width="7.2" height="7.2"/><rect x="190.3" y="78.1" width="7.2" height="7.2"/><rect x="191.5" y="88.1" width="7.2" height="7.2"/><rect x="192.8" y="98.0" width="7.2" height="7.2"/><rect x="194.0" y="107.9" width="7.2" height="7.2"/><rect x="195.2" y="117.8" width="7.2" height="7.2"/><rect x="196.3" y="127.8" width="7.2" height="7.2"/><rect x="197.5" y="137.7" width="7.2" height="7.2"/><rect x="198.7" y="147.6" width="7.2" height="7.2"/><rect x="199.9" y="157.6" width="7.2" height="7.2"/><rect x="201.1" y="167.5" width="7.2" height="7.2"/><rect x="202.2" y="177.4" width="7.2" height="7.2"/><rect x="203.4" y="187.4" width="7.2" height="7.2"/><rect x="204.6" y="197.3" width="7.2" height="7.2"/><rect x="205.7" y="207.2" width="7.2" height="7.2"/><rect x="206.9" y="217.2" width="7.2" height="7.2"/><rect x="208.1" y="227.1" width="7.2" height="7.2"/><rect x="209.2" y="237.0" width="7.2" height="7.2"/><rect x="222.4" y="242.4" width="7.2" height="7.2"/><rect x="229.4" y="248.4" width="7.2" height="7.2"/><rect x="236.4" y="254.4" width="7.2" height="7.2"/><rect x="243.4" y="259.4" width="7.2" height="7.2"/><rect x="226.4" y="259.4" width="7.2" height="7.2"/><rect x="218.4" y="254.4" width="7.2" height="7.2"/><rect x="211.4" y="248.4" width="7.2" height="7.2"/></g>
<g fill="#fff" stroke="#ff0000" stroke-width="1.6"><circle cx="191.0" cy="30.0" r="4.8"/><circle cx="192.4" cy="46.9" r="4.8"/><circle cx="194.1" cy="63.9" r="4.8"/><circle cx="195.9" cy="80.8" r="4.8"/><circle cx="197.5" cy="97.7" r="4.8"/><circle cx="199.1" cy="114.6" r="4.8"/><circle cx="201.0" cy="131.5" r="4.8"/><circle cx="224.0" cy="185.0" r="4.8"/><circle cx="229.5" cy="201.1" r="4.8"/><circle cx="236.8" cy="216.4" r="4.8"/><circle cx="241.4" cy="232.7" r="4.8"/><circle cx="248.1" cy="248.3" r="4.8"/><circle cx="255.8" cy="263.5" r="4.8"/></g>
<g fill="#fff" stroke="#00ff00" stroke-width="1.6"><path d="M187.5 22.5L198.0 22.5L192.8 13.0Z"/><path d="M190.9 38.1L201.4 38.1L196.1 28.7Z"/><path d="M194.2 53.8L204.7 53.8L199.5 44.3Z"/><path d="M197.7 69.4L208.2 69.4L202.9 59.9Z"/><path d="M201.2 85.0L211.7 85.0L206.5 75.5Z"/><path d="M204.9 100.6L215.4 100.6L210.1 91.1Z"/><path d="M208.6 116.1L219.1 116.1L213.9 106.7Z"/><path d="M212.5 131.6L223.0 131.6L217.7 122.2Z"/><path d="M216.4 147.1L226.9 147.1L221.7 137.7Z"/><path d="M220.6 162.6L231.1 162.6L225.8 153.1Z"/><path d="M224.7 178.1L235.2 178.1L229.9 168.6Z"/><path d="M228.4 193.6L238.9 193.6L233.7 184.2Z"/><path d="M231.8 209.2L242.3 209.2L237.1 199.8Z"/><path d="M235.6 224.8L246.1 224.8L240.8 215.4Z"/><path d="M239.9 240.2L250.4 240.2L245.2 230.7Z"/><path d="M244.6 255.5L255.1 255.5L249.9 246.0Z"/><path d="M249.3 270.8L259.8 270.8L254.5 261.4Z"/></g>
<g fill="#fff" stroke="#00ff00" stroke-width="1.6"><path d="M203.8 64.5L214.3 64.5L209.0 55.0Z"/><path d="M205.7 80.3L216.2 80.3L211.0 70.9Z"/><path d="M207.7 96.2L218.2 96.2L213.0 86.8Z"/><path d="M209.8 112.1L220.3 112.1L215.1 102.6Z"/><path d="M212.1 127.9L222.6 127.9L217.3 118.5Z"/><path d="M214.4 143.8L224.9 143.8L219.6 134.3Z"/><path d="M216.6 159.6L227.1 159.6L221.9 150.1Z"/><path d="M219.0 175.4L229.5 175.4L224.3 166.0Z"/><path d="M222.3 191.1L232.8 191.1L227.6 181.6Z"/><path d="M226.7 206.5L237.2 206.5L231.9 197.0Z"/><path d="M230.9 221.9L241.4 221.9L236.2 212.4Z"/><path d="M234.2 237.5L244.7 237.5L239.5 228.1Z"/><path d="M237.1 253.3L247.6 253.3L242.3 243.8Z"/><path d="M239.9 269.0L250.4 269.0L245.2 259.6Z"/></g>
<g fill="#fff" stroke="#0000ff" stroke-width="1.6"><path d="M194.7 14.6L202.7 14.6L198.7 21.8Z"/><path d="M196.6 21.3L204.6 21.3L200.6 28.5Z"/><path d="M198.5 28.1L206.5 28.1L202.5 35.3Z"/><path d="M200.3 34.8L208.3 34.8L204.3 42.0Z"/><path d="M202.3 41.6L210.3 41.6L206.3 48.8Z"/><path d="M204.2 48.3L212.2 48.3L208.2 55.5Z"/><path d="M206.1 55.0L214.1 55.0L210.1 62.2Z"/><path d="M208.1 61.7L216.1 61.7L212.1 68.9Z"/><path d="M210.0 68.5L218.0 68.5L214.0 75.7Z"/><path d="M212.0 75.2L220.0 75.2L216.0 82.4Z"/><path d="M214.0 81.9L222.0 81.9L218.0 89.1Z"/><path d="M216.1 88.6L224.1 88.6L220.1 95.8Z"/><path d="M218.1 95.3L226.1 95.3L222.1 102.5Z"/><path d="M220.2 101.9L228.2 101.9L224.2 109.1Z"/><path d="M222.3 108.6L230.3 108.6L226.3 115.8Z"/><path d="M224.4 115.3L232.4 115.3L228.4 122.5Z"/><path d="M226.6 122.0L234.6 122.0L230.6 129.2Z"/><path d="M228.7 128.6L236.7 128.6L232.7 135.8Z"/><path d="M230.9 135.3L238.9 135.3L234.9 142.5Z"/><path d="M233.1 141.9L241.1 141.9L237.1 149.1Z"/><path d="M235.3 148.6L243.3 148.6L239.3 155.8Z"/><path d="M237.5 155.2L245.5 155.2L241.5 162.4Z"/><path d="M239.7 161.8L247.7 161.8L243.7 169.0Z"/><path d="M242.0 168.5L250.0 168.5L246.0 175.7Z"/><path d="M244.2 175.1L252.2 175.1L248.2 182.3Z"/><path d="M246.5 181.7L254.5 181.7L250.5 188.9Z"/><path d="M248.8 188.3L256.8 188.3L252.8 195.5Z"/><path d="M251.1 194.9L259.1 194.9L255.1 202.1Z"/><path d="M253.4 201.5L261.4 201.5L257.4 208.7Z"/><path d="M255.8 208.1L263.8 208.1L259.8 215.3Z"/><path d="M258.2 214.7L266.2 214.7L262.2 221.9Z"/><path d="M260.5 221.3L268.5 221.3L264.5 228.5Z"/><path d="M263.0 227.9L271.0 227.9L267.0 235.1Z"/><path d="M265.4 234.4L273.4 234.4L269.4 241.6Z"/><path d="M267.9 241.0L275.9 241.0L271.9 248.2Z"/><path d="M270.3 247.5L278.3 247.5L274.3 254.7Z"/><path d="M272.8 254.1L280.8 254.1L276.8 261.3Z"/><path d="M275.2 260.6L283.2 260.6L279.2 267.8Z"/></g>
<g fill="#fff" stroke="#00ffff" stroke-width="1.6"><path d="M206.5 14.0L210.5 18.0L206.5 22.0L202.5 18.0Z"/><path d="M209.1 22.6L213.1 26.6L209.1 30.6L205.1 26.6Z"/><path d="M211.6 31.3L215.6 35.3L211.6 39.3L207.6 35.3Z"/><path d="M214.2 39.9L218.2 43.9L214.2 47.9L210.2 43.9Z"/><path d="M216.7 48.5L220.7 52.5L216.7 56.5L212.7 52.5Z"/><path d="M219.4 57.1L223.4 61.1L219.4 65.1L215.4 61.1Z"/><path d="M222.0 65.7L226.0 69.7L222.0 73.7L218.0 69.7Z"/><path d="M224.8 74.3L228.8 78.3L224.8 82.3L220.8 78.3Z"/><path d="M227.5 82.9L231.5 86.9L227.5 90.9L223.5 86.9Z"/><path d="M230.3 91.4L234.3 95.4L230.3 99.4L226.3 95.4Z"/><path d="M233.2 100.0L237.2 104.0L233.2 108.0L229.2 104.0Z"/><path d="M236.1 108.5L240.1 112.5L236.1 116.5L232.1 112.5Z"/><path d="M239.0 117.0L243.0 121.0L239.0 125.0L235.0 121.0Z"/><path d="M242.0 125.5L246.0 129.5L242.0 133.5L238.0 129.5Z"/><path d="M245.0 134.0L249.0 138.0L245.0 142.0L241.0 138.0Z"/><path d="M248.1 142.4L252.1 146.4L248.1 150.4L244.1 146.4Z"/><path d="M251.1 150.9L255.1 154.9L251.1 158.9L247.1 154.9Z"/><path d="M254.3 159.3L258.3 163.3L254.3 167.3L250.3 163.3Z"/><path d="M257.4 167.7L261.4 171.7L257.4 175.7L253.4 171.7Z"/><path d="M260.6 176.2L264.6 180.2L260.6 184.2L256.6 180.2Z"/><path d="M263.9 184.6L267.9 188.6L263.9 192.6L259.9 188.6Z"/><path d="M267.1 193.0L271.1 197.0L267.1 201.0L263.1 197.0Z"/><path d="M270.4 201.3L274.4 205.3L270.4 209.3L266.4 205.3Z"/><path d="M273.7 209.7L277.7 213.7L273.7 217.7L269.7 213.7Z"/><path d="M277.1 218.0L281.1 222.0L277.1 226.0L273.1 222.0Z"/><path d="M280.6 226.3L284.6 230.3L280.6 234.3L276.6 230.3Z"/><path d="M284.1 234.6L288.1 238.6L284.1 242.6L280.1 238.6Z"/><path d="M287.6 242.9L291.6 246.9L287.6 250.9L283.6 246.9Z"/><path d="M291.1 251.2L295.1 255.2L291.1 259.2L287.1 255.2Z"/><path d="M294.6 259.5L298.6 263.5L294.6 267.5L290.6 263.5Z"/><path d="M286.0 228.0L290.0 232.0L286.0 236.0L282.0 232.0Z"/><path d="M290.0 236.1L294.0 240.1L290.0 244.1L286.0 240.1Z"/><path d="M294.4 243.9L298.4 247.9L294.4 251.9L290.4 247.9Z"/></g>
<g fill="#fff" stroke="#ff00ff" stroke-width="1.6"><path d="M199.3 40.0L207.3 36.0L207.3 44.0Z"/><path d="M202.3 50.6L210.3 46.6L210.3 54.6Z"/><path d="M205.4 61.1L213.4 57.1L213.4 65.1Z"/><path d="M208.5 71.7L216.5 67.7L216.5 75.7Z"/><path d="M211.7 82.2L219.7 78.2L219.7 86.2Z"/><path d="M214.9 92.7L222.9 88.7L222.9 96.7Z"/><path d="M218.1 103.3L226.1 99.3L226.1 107.3Z"/><path d="M221.4 113.8L229.4 109.8L229.4 117.8Z"/><path d="M224.7 124.2L232.7 120.2L232.7 128.2Z"/><path d="M228.1 134.7L236.1 130.7L236.1 138.7Z"/><path d="M231.5 145.2L239.5 141.2L239.5 149.2Z"/><path d="M234.9 155.6L242.9 151.6L242.9 159.6Z"/><path d="M238.4 166.0L246.4 162.0L246.4 170.0Z"/><path d="M242.0 176.5L250.0 172.5L250.0 180.5Z"/><path d="M245.6 186.8L253.6 182.8L253.6 190.8Z"/><path d="M249.2 197.2L257.2 193.2L257.2 201.2Z"/><path d="M252.9 207.6L260.9 203.6L260.9 211.6Z"/><path d="M256.7 217.9L264.7 213.9L264.7 221.9Z"/><path d="M260.4 228.3L268.4 224.3L268.4 232.3Z"/><path d="M264.2 238.6L272.2 234.6L272.2 242.6Z"/><path d="M277.0 212.0L285.0 208.0L285.0 216.0Z"/><path d="M282.0 221.8L290.0 217.8L290.0 225.8Z"/><path d="M286.3 231.9L294.3 227.9L294.3 235.9Z"/><path d="M290.5 242.1L298.5 238.1L298.5 246.1Z"/></g>
<path d="M191.5 12.0 L191.6 13.3 L191.9 15.0 L192.1 17.0 L192.4 19.2 L192.7 21.6 L193.0 24.1 L193.3 26.8 L193.6 29.5 L194.0 32.2 L194.3 34.9 L194.6 37.5 L194.9 40.0 L195.2 42.4 L195.5 44.9 L195.8 47.4 L196.1 49.9 L196.4 52.4 L196.7 54.9 L197.0 57.4 L197.3 59.9 L197.7 62.5 L198.0 65.0 L198.3 67.5 L198.6 70.0 L198.9 72.5 L199.2 75.0 L199.5 77.5 L199.8 80.0 L200.1 82.5 L200.4 85.0 L200.7 87.5 L201.0 90.0 L201.3 92.5 L201.6 95.0 L201.9 97.5 L202.2 100.0 L202.5 102.5 L202.8 105.0 L203.1 107.5 L203.4 110.0 L203.7 112.5 L204.0 115.0 L204.3 117.5 L204.6 120.0 L204.9 122.5 L205.2 125.0 L205.5 127.5 L205.8 130.0 L206.1 132.5 L206.4 135.0 L206.7 137.5 L207.0 140.0 L207.3 142.5 L207.6 145.0 L207.9 147.5 L208.2 150.0 L208.5 152.5 L208.8 155.0 L209.1 157.5 L209.4 160.0 L209.7 162.5 L210.0 165.0 L210.3 167.5 L210.6 170.0 L210.9 172.5 L211.1 175.0 L211.4 177.5 L211.7 180.0 L212.0 182.5 L212.3 185.0 L212.6 187.5 L212.9 190.0 L213.2 192.5 L213.5 195.0 L213.8 197.5 L214.1 200.0 L214.4 202.5 L214.7 205.0 L215.0 207.5 L215.3 210.0 L215.6 212.5 L215.9 215.0 L216.1 217.5 L216.4 220.0 L216.7 222.5 L217.0 225.0 L217.3 227.5 L217.6 230.0 L217.9 232.5 L218.2 235.0 L218.5 237.5 L218.8 240.0 L219.1 242.5 L219.3 245.0 L219.6 247.5 L219.9 250.0 L220.2 252.6 L220.5 255.3 L220.9 258.2 L221.2 261.1 L221.5 264.0 L221.9 266.9 L222.2 269.6 L222.5 272.2 L222.8 274.6 L223.0 276.7 L223.2 278.6 L223.4 280.0" fill="none" stroke="#000000" stroke-width="5.4" stroke-linejoin="round"/>
<path d="M195.7 12.0 L195.9 13.3 L196.0 15.0 L196.2 17.0 L196.5 19.2 L196.7 21.6 L197.0 24.1 L197.3 26.8 L197.6 29.5 L197.8 32.2 L198.1 34.9 L198.4 37.5 L198.7 40.0 L199.0 42.4 L199.2 44.9 L199.5 47.4 L199.8 49.9 L200.1 52.4 L200.4 54.9 L200.7 57.4 L201.0 59.9 L201.3 62.5 L201.6 65.0 L201.9 67.5 L202.2 70.0 L202.5 72.5 L202.8 75.0 L203.1 77.5 L203.5 80.0 L203.8 82.5 L204.1 85.0 L204.4 87.5 L204.7 90.0 L205.1 92.5 L205.4 95.0 L205.7 97.5 L206.1 100.0 L206.4 102.5 L206.7 105.0 L207.1 107.5 L207.4 110.0 L207.8 112.5 L208.1 115.0 L208.5 117.5 L208.8 120.0 L209.2 122.5 L209.5 125.0 L209.9 127.5 L210.2 130.0 L210.6 132.5 L211.0 135.0 L211.3 137.5 L211.7 140.0 L212.1 142.5 L212.5 145.0 L212.8 147.5 L213.2 150.0 L213.6 152.5 L214.0 155.0 L214.4 157.5 L214.8 160.0 L215.2 162.5 L215.6 165.0 L216.0 167.5 L216.4 170.0 L216.8 172.5 L217.2 175.0 L217.6 177.5 L218.0 180.0 L218.4 182.5 L218.8 185.0 L219.2 187.5 L219.6 190.0 L220.0 192.5 L220.5 195.0 L220.9 197.5 L221.3 200.0 L221.7 202.5 L222.2 205.0 L222.6 207.5 L223.0 210.0 L223.5 212.5 L223.9 215.0 L224.4 217.5 L224.8 220.0 L225.3 222.5 L225.7 225.0 L226.2 227.5 L226.6 230.0 L227.1 232.5 L227.5 235.0 L228.0 237.5 L228.5 240.0 L228.9 242.5 L229.4 245.0 L229.9 247.5 L230.3 250.0 L230.8 252.6 L231.4 255.3 L231.9 258.2 L232.5 261.1 L233.1 264.0 L233.6 266.9 L234.2 269.6 L234.7 272.2 L235.1 274.6 L235.6 276.7 L235.9 278.6 L236.2 280.0" fill="none" stroke="#ff0000" stroke-width="5.8" stroke-linejoin="round"/>
<path d="M198.5 12.0 L198.8 13.3 L199.1 15.0 L199.6 17.0 L200.0 19.2 L200.5 21.6 L201.0 24.1 L201.6 26.8 L202.2 29.5 L202.7 32.2 L203.3 34.9 L203.9 37.5 L204.4 40.0 L204.9 42.4 L205.4 44.9 L206.0 47.4 L206.5 49.9 L207.1 52.4 L207.6 54.9 L208.2 57.4 L208.8 59.9 L209.3 62.5 L209.9 65.0 L210.5 67.5 L211.0 70.0 L211.6 72.5 L212.2 75.0 L212.8 77.5 L213.3 80.0 L213.9 82.5 L214.5 85.0 L215.1 87.5 L215.7 90.0 L216.3 92.5 L216.9 95.0 L217.4 97.5 L218.0 100.0 L218.6 102.5 L219.2 105.0 L219.9 107.5 L220.5 110.0 L221.1 112.5 L221.7 115.0 L222.3 117.5 L222.9 120.0 L223.5 122.5 L224.2 125.0 L224.8 127.5 L225.4 130.0 L226.0 132.5 L226.7 135.0 L227.3 137.5 L228.0 140.0 L228.6 142.5 L229.2 145.0 L229.9 147.5 L230.5 150.0 L231.2 152.5 L231.8 155.0 L232.5 157.5 L233.2 160.0 L233.8 162.5 L234.5 165.0 L235.1 167.5 L235.8 170.0 L236.5 172.5 L237.2 175.0 L237.8 177.5 L238.5 180.0 L239.2 182.5 L239.9 185.0 L240.6 187.5 L241.3 190.0 L241.9 192.5 L242.6 195.0 L243.3 197.5 L244.0 200.0 L244.7 202.5 L245.4 205.0 L246.1 207.5 L246.9 210.0 L247.6 212.5 L248.3 215.0 L249.0 217.5 L249.7 220.0 L250.4 222.5 L251.2 225.0 L251.9 227.5 L252.6 230.0 L253.4 232.5 L254.1 235.0 L254.8 237.5 L255.6 240.0 L256.3 242.5 L257.0 245.0 L257.8 247.5 L258.5 250.0 L259.3 252.6 L260.2 255.3 L261.0 258.2 L261.9 261.1 L262.8 264.0 L263.7 266.9 L264.5 269.6 L265.3 272.2 L266.1 274.6 L266.7 276.7 L267.3 278.6 L267.7 280.0" fill="none" stroke="#00ff00" stroke-width="6.0" stroke-linejoin="round"/>
<path d="M202.0 12.0 L202.4 13.3 L202.8 15.0 L203.4 17.0 L204.0 19.2 L204.6 21.6 L205.3 24.1 L206.1 26.8 L206.8 29.5 L207.6 32.2 L208.3 34.9 L209.1 37.5 L209.8 40.0 L210.5 42.4 L211.2 44.9 L211.9 47.4 L212.6 49.9 L213.3 52.4 L214.0 54.9 L214.8 57.4 L215.5 59.9 L216.2 62.5 L217.0 65.0 L217.7 67.5 L218.5 70.0 L219.2 72.5 L219.9 75.0 L220.7 77.5 L221.4 80.0 L222.2 82.5 L222.9 85.0 L223.7 87.5 L224.5 90.0 L225.2 92.5 L226.0 95.0 L226.8 97.5 L227.5 100.0 L228.3 102.5 L229.1 105.0 L229.9 107.5 L230.7 110.0 L231.4 112.5 L232.2 115.0 L233.0 117.5 L233.8 120.0 L234.6 122.5 L235.4 125.0 L236.2 127.5 L237.0 130.0 L237.8 132.5 L238.6 135.0 L239.4 137.5 L240.3 140.0 L241.1 142.5 L241.9 145.0 L242.7 147.5 L243.6 150.0 L244.4 152.5 L245.2 155.0 L246.1 157.5 L246.9 160.0 L247.7 162.5 L248.6 165.0 L249.4 167.5 L250.3 170.0 L251.1 172.5 L252.0 175.0 L252.8 177.5 L253.7 180.0 L254.6 182.5 L255.4 185.0 L256.3 187.5 L257.2 190.0 L258.0 192.5 L258.9 195.0 L259.8 197.5 L260.7 200.0 L261.6 202.5 L262.4 205.0 L263.3 207.5 L264.2 210.0 L265.1 212.5 L266.0 215.0 L266.9 217.5 L267.8 220.0 L268.7 222.5 L269.6 225.0 L270.6 227.5 L271.5 230.0 L272.4 232.5 L273.3 235.0 L274.2 237.5 L275.2 240.0 L276.1 242.5 L277.0 245.0 L278.0 247.5 L278.9 250.0 L279.9 252.6 L280.9 255.3 L282.0 258.2 L283.1 261.1 L284.2 264.0 L285.3 266.9 L286.4 269.6 L287.4 272.2 L288.3 274.6 L289.1 276.7 L289.8 278.6 L290.4 280.0" fill="none" stroke="#0000ff" stroke-width="6.0" stroke-linejoin="round"/>
<path d="M204.8 12.0 L205.2 13.3 L205.7 15.0 L206.2 17.0 L206.9 19.2 L207.5 21.6 L208.3 24.1 L209.0 26.8 L209.8 29.5 L210.6 32.2 L211.4 34.9 L212.1 37.5 L212.9 40.0 L213.6 42.4 L214.3 44.9 L215.1 47.4 L215.8 49.9 L216.6 52.4 L217.4 54.9 L218.2 57.4 L218.9 59.9 L219.7 62.5 L220.5 65.0 L221.3 67.5 L222.1 70.0 L222.9 72.5 L223.7 75.0 L224.5 77.5 L225.3 80.0 L226.1 82.5 L226.9 85.0 L227.7 87.5 L228.5 90.0 L229.3 92.5 L230.2 95.0 L231.0 97.5 L231.8 100.0 L232.7 102.5 L233.5 105.0 L234.3 107.5 L235.2 110.0 L236.0 112.5 L236.9 115.0 L237.8 117.5 L238.6 120.0 L239.5 122.5 L240.4 125.0 L241.2 127.5 L242.1 130.0 L243.0 132.5 L243.9 135.0 L244.8 137.5 L245.7 140.0 L246.6 142.5 L247.5 145.0 L248.4 147.5 L249.3 150.0 L250.2 152.5 L251.1 155.0 L252.0 157.5 L253.0 160.0 L253.9 162.5 L254.8 165.0 L255.8 167.5 L256.7 170.0 L257.6 172.5 L258.6 175.0 L259.5 177.5 L260.5 180.0 L261.5 182.5 L262.4 185.0 L263.4 187.5 L264.4 190.0 L265.3 192.5 L266.3 195.0 L267.3 197.5 L268.3 200.0 L269.3 202.5 L270.3 205.0 L271.3 207.5 L272.3 210.0 L273.3 212.5 L274.3 215.0 L275.3 217.5 L276.3 220.0 L277.3 222.5 L278.4 225.0 L279.4 227.5 L280.4 230.0 L281.4 232.5 L282.5 235.0 L283.5 237.5 L284.6 240.0 L285.6 242.5 L286.7 245.0 L287.7 247.5 L288.8 250.0 L289.9 252.6 L291.1 255.3 L292.3 258.2 L293.6 261.1 L294.9 264.0 L296.1 266.9 L297.3 269.6 L298.4 272.2 L299.5 274.6 L300.4 276.7 L301.2 278.6 L301.9 280.0" fill="none" stroke="#00ffff" stroke-width="4.2" stroke-linejoin="round"/>
<path d="M208.0 12.0 L208.4 13.3 L208.9 15.0 L209.5 17.0 L210.2 19.2 L210.9 21.6 L211.7 24.1 L212.5 26.8 L213.3 29.5 L214.2 32.2 L215.0 34.9 L215.8 37.5 L216.6 40.0 L217.4 42.4 L218.1 44.9 L218.9 47.4 L219.7 49.9 L220.5 52.4 L221.4 54.9 L222.2 57.4 L223.0 59.9 L223.8 62.5 L224.7 65.0 L225.5 67.5 L226.3 70.0 L227.2 72.5 L228.0 75.0 L228.9 77.5 L229.7 80.0 L230.6 82.5 L231.4 85.0 L232.3 87.5 L233.2 90.0 L234.0 92.5 L234.9 95.0 L235.8 97.5 L236.7 100.0 L237.6 102.5 L238.4 105.0 L239.3 107.5 L240.2 110.0 L241.1 112.5 L242.0 115.0 L243.0 117.5 L243.9 120.0 L244.8 122.5 L245.7 125.0 L246.6 127.5 L247.6 130.0 L248.5 132.5 L249.4 135.0 L250.4 137.5 L251.3 140.0 L252.3 142.5 L253.2 145.0 L254.2 147.5 L255.2 150.0 L256.1 152.5 L257.1 155.0 L258.1 157.5 L259.0 160.0 L260.0 162.5 L261.0 165.0 L262.0 167.5 L263.0 170.0 L264.0 172.5 L265.0 175.0 L266.0 177.5 L267.0 180.0 L268.0 182.5 L269.0 185.0 L270.1 187.5 L271.1 190.0 L272.1 192.5 L273.1 195.0 L274.2 197.5 L275.2 200.0 L276.3 202.5 L277.3 205.0 L278.4 207.5 L279.4 210.0 L280.5 212.5 L281.6 215.0 L282.6 217.5 L283.7 220.0 L284.8 222.5 L285.9 225.0 L286.9 227.5 L288.0 230.0 L289.1 232.5 L290.2 235.0 L291.3 237.5 L292.4 240.0 L293.5 242.5 L294.6 245.0 L295.8 247.5 L296.9 250.0 L298.0 252.6 L299.3 255.3 L300.6 258.2 L301.9 261.1 L303.3 264.0 L304.6 266.9 L305.8 269.6 L307.0 272.2 L308.1 274.6 L309.1 276.7 L310.0 278.6 L310.6 280.0" fill="none" stroke="#ff00ff" stroke-width="5.6" stroke-linejoin="round"/>
</g>
<g clip-path="url(#ciR)">
<g fill="#fff" stroke="#000000" stroke-width="1.6"><rect x="400.4" y="114.4" width="7.2" height="7.2"/><rect x="399.3" y="124.3" width="7.2" height="7.2"/><rect x="398.1" y="134.3" width="7.2" height="7.2"/><rect x="396.7" y="144.2" width="7.2" height="7.2"/><rect x="394.9" y="154.0" width="7.2" height="7.2"/><rect x="392.6" y="163.7" width="7.2" height="7.2"/><rect x="390.5" y="173.5" width="7.2" height="7.2"/><rect x="389.2" y="183.4" width="7.2" height="7.2"/><rect x="388.1" y="193.4" width="7.2" height="7.2"/><rect x="387.2" y="203.3" width="7.2" height="7.2"/><rect x="386.3" y="213.3" width="7.2" height="7.2"/><rect x="385.5" y="223.2" width="7.2" height="7.2"/><rect x="314.4" y="254.4" width="7.2" height="7.2"/><rect x="323.2" y="258.0" width="7.2" height="7.2"/><rect x="330.2" y="251.4" width="7.2" height="7.2"/><rect x="339.5" y="254.8" width="7.2" height="7.2"/><rect x="348.8" y="258.4" width="7.2" height="7.2"/><rect x="376.4" y="258.4" width="7.2" height="7.2"/><rect x="382.4" y="252.4" width="7.2" height="7.2"/></g>
<g fill="#fff" stroke="#ff0000" stroke-width="1.6"><circle cx="409.5" cy="18.0" r="4.8"/><circle cx="407.7" cy="34.9" r="4.8"/><circle cx="405.8" cy="51.8" r="4.8"/><circle cx="403.7" cy="68.7" r="4.8"/><circle cx="401.5" cy="85.5" r="4.8"/><circle cx="399.2" cy="102.4" r="4.8"/><circle cx="396.7" cy="119.2" r="4.8"/><circle cx="394.1" cy="136.0" r="4.8"/><circle cx="391.3" cy="152.8" r="4.8"/><circle cx="388.4" cy="169.5" r="4.8"/><circle cx="385.1" cy="186.2" r="4.8"/><circle cx="381.5" cy="202.8" r="4.8"/><circle cx="377.7" cy="219.4" r="4.8"/><circle cx="373.9" cy="235.9" r="4.8"/><circle cx="370.0" cy="252.5" r="4.8"/><circle cx="366.6" cy="269.1" r="4.8"/></g>
<g fill="#fff" stroke="#00ff00" stroke-width="1.6"><path d="M406.3 22.5L416.8 22.5L411.6 13.0Z"/><path d="M402.6 38.0L413.1 38.0L407.9 28.6Z"/><path d="M398.9 53.6L409.4 53.6L404.1 44.1Z"/><path d="M394.9 69.1L405.4 69.1L400.2 59.6Z"/><path d="M390.7 84.5L401.2 84.5L395.9 75.1Z"/><path d="M386.3 99.9L396.8 99.9L391.6 90.5Z"/><path d="M381.9 115.3L392.4 115.3L387.1 105.8Z"/><path d="M377.4 130.6L387.9 130.6L382.7 121.2Z"/><path d="M373.0 146.0L383.5 146.0L378.2 136.6Z"/><path d="M368.5 161.4L379.0 161.4L373.7 151.9Z"/><path d="M364.0 176.7L374.5 176.7L369.2 167.3Z"/><path d="M359.3 192.0L369.8 192.0L364.6 182.6Z"/><path d="M354.6 207.3L365.1 207.3L359.8 197.9Z"/><path d="M349.5 222.5L360.0 222.5L354.8 213.0Z"/><path d="M344.0 237.5L354.5 237.5L349.2 228.0Z"/><path d="M338.1 252.4L348.6 252.4L343.3 242.9Z"/><path d="M332.2 267.2L342.7 267.2L337.4 257.8Z"/></g>
<g fill="#fff" stroke="#00ff00" stroke-width="1.6"><path d="M394.3 22.5L404.8 22.5L399.6 13.0Z"/><path d="M390.6 38.0L401.1 38.0L395.9 28.6Z"/><path d="M386.9 53.6L397.4 53.6L392.1 44.1Z"/><path d="M382.9 69.1L393.4 69.1L388.2 59.6Z"/><path d="M378.7 84.5L389.2 84.5L383.9 75.1Z"/><path d="M374.3 99.9L384.8 99.9L379.6 90.5Z"/><path d="M369.9 115.3L380.4 115.3L375.1 105.8Z"/><path d="M365.4 130.6L375.9 130.6L370.7 121.2Z"/><path d="M361.0 146.0L371.5 146.0L366.2 136.6Z"/><path d="M356.5 161.4L367.0 161.4L361.7 151.9Z"/><path d="M352.0 176.7L362.5 176.7L357.2 167.3Z"/><path d="M347.3 192.0L357.8 192.0L352.6 182.6Z"/><path d="M342.6 207.3L353.1 207.3L347.8 197.9Z"/><path d="M337.5 222.5L348.0 222.5L342.8 213.0Z"/><path d="M332.0 237.5L342.5 237.5L337.2 228.0Z"/><path d="M326.1 252.4L336.6 252.4L331.3 242.9Z"/></g>
<g fill="#fff" stroke="#0000ff" stroke-width="1.6"><path d="M402.4 14.6L410.4 14.6L406.4 21.8Z"/><path d="M399.9 21.2L407.9 21.2L403.9 28.4Z"/><path d="M397.5 27.7L405.5 27.7L401.5 34.9Z"/><path d="M395.0 34.3L403.0 34.3L399.0 41.5Z"/><path d="M392.6 40.8L400.6 40.8L396.6 48.0Z"/><path d="M390.1 47.4L398.1 47.4L394.1 54.6Z"/><path d="M387.6 53.9L395.6 53.9L391.6 61.1Z"/><path d="M385.0 60.4L393.0 60.4L389.0 67.6Z"/><path d="M382.3 66.9L390.3 66.9L386.3 74.1Z"/><path d="M379.7 73.4L387.7 73.4L383.7 80.6Z"/><path d="M376.9 79.8L384.9 79.8L380.9 87.0Z"/><path d="M374.2 86.2L382.2 86.2L378.2 93.4Z"/><path d="M371.4 92.7L379.4 92.7L375.4 99.9Z"/><path d="M368.7 99.1L376.7 99.1L372.7 106.3Z"/><path d="M365.9 105.5L373.9 105.5L369.9 112.7Z"/><path d="M363.1 111.9L371.1 111.9L367.1 119.1Z"/><path d="M360.2 118.3L368.2 118.3L364.2 125.5Z"/><path d="M357.4 124.7L365.4 124.7L361.4 131.9Z"/><path d="M354.5 131.1L362.5 131.1L358.5 138.3Z"/><path d="M351.6 137.5L359.6 137.5L355.6 144.7Z"/><path d="M348.6 143.8L356.6 143.8L352.6 151.0Z"/><path d="M345.7 150.2L353.7 150.2L349.7 157.4Z"/><path d="M342.7 156.5L350.7 156.5L346.7 163.7Z"/><path d="M339.7 162.8L347.7 162.8L343.7 170.0Z"/><path d="M336.6 169.1L344.6 169.1L340.6 176.3Z"/><path d="M333.5 175.4L341.5 175.4L337.5 182.6Z"/><path d="M330.4 181.7L338.4 181.7L334.4 188.9Z"/><path d="M327.2 187.9L335.2 187.9L331.2 195.1Z"/><path d="M323.9 194.0L331.9 194.0L327.9 201.2Z"/><path d="M320.6 200.2L328.6 200.2L324.6 207.4Z"/><path d="M317.4 206.5L325.4 206.5L321.4 213.7Z"/><path d="M314.3 212.7L322.3 212.7L318.3 219.9Z"/><path d="M311.4 219.1L319.4 219.1L315.4 226.3Z"/><path d="M308.7 225.6L316.7 225.6L312.7 232.8Z"/><path d="M306.0 232.0L314.0 232.0L310.0 239.2Z"/><path d="M303.5 238.5L311.5 238.5L307.5 245.7Z"/><path d="M301.0 245.1L309.0 245.1L305.0 252.3Z"/><path d="M298.6 251.7L306.6 251.7L302.6 258.9Z"/><path d="M296.5 258.4L304.5 258.4L300.5 265.6Z"/><path d="M296.5 265.2L304.5 265.2L300.5 272.4Z"/></g>
<g fill="#fff" stroke="#00ffff" stroke-width="1.6"><path d="M397.8 14.0L401.8 18.0L397.8 22.0L393.8 18.0Z"/><path d="M394.8 22.5L398.8 26.5L394.8 30.5L390.8 26.5Z"/><path d="M391.7 30.9L395.7 34.9L391.7 38.9L387.7 34.9Z"/><path d="M388.6 39.4L392.6 43.4L388.6 47.4L384.6 43.4Z"/><path d="M385.4 47.8L389.4 51.8L385.4 55.8L381.4 51.8Z"/><path d="M382.1 56.1L386.1 60.1L382.1 64.1L378.1 60.1Z"/><path d="M378.6 64.5L382.6 68.5L378.6 72.5L374.6 68.5Z"/><path d="M375.0 72.7L379.0 76.7L375.0 80.7L371.0 76.7Z"/><path d="M371.4 80.9L375.4 84.9L371.4 88.9L367.4 84.9Z"/><path d="M367.6 89.1L371.6 93.1L367.6 97.1L363.6 93.1Z"/><path d="M363.9 97.3L367.9 101.3L363.9 105.3L359.9 101.3Z"/><path d="M360.1 105.5L364.1 109.5L360.1 113.5L356.1 109.5Z"/><path d="M356.3 113.6L360.3 117.6L356.3 121.6L352.3 117.6Z"/><path d="M352.4 121.7L356.4 125.7L352.4 129.7L348.4 125.7Z"/><path d="M348.5 129.8L352.5 133.8L348.5 137.8L344.5 133.8Z"/><path d="M344.6 137.9L348.6 141.9L344.6 145.9L340.6 141.9Z"/><path d="M340.6 146.0L344.6 150.0L340.6 154.0L336.6 150.0Z"/><path d="M336.5 154.1L340.5 158.1L336.5 162.1L332.5 158.1Z"/><path d="M332.5 162.1L336.5 166.1L332.5 170.1L328.5 166.1Z"/><path d="M328.4 170.1L332.4 174.1L328.4 178.1L324.4 174.1Z"/><path d="M324.3 178.1L328.3 182.1L324.3 186.1L320.3 182.1Z"/><path d="M320.0 186.0L324.0 190.0L320.0 194.0L316.0 190.0Z"/><path d="M315.5 193.8L319.5 197.8L315.5 201.8L311.5 197.8Z"/><path d="M311.2 201.7L315.2 205.7L311.2 209.7L307.2 205.7Z"/><path d="M307.2 209.8L311.2 213.8L307.2 217.8L303.2 213.8Z"/><path d="M303.9 218.1L307.9 222.1L303.9 226.1L299.9 222.1Z"/><path d="M301.4 226.8L305.4 230.8L301.4 234.8L297.4 230.8Z"/><path d="M299.5 235.6L303.5 239.6L299.5 243.6L295.5 239.6Z"/><path d="M297.9 244.4L301.9 248.4L297.9 252.4L293.9 248.4Z"/><path d="M296.4 253.3L300.4 257.3L296.4 261.3L292.4 257.3Z"/><path d="M295.4 262.2L299.4 266.2L295.4 270.2L291.4 266.2Z"/></g>
<g fill="#fff" stroke="#ff00ff" stroke-width="1.6"><path d="M386.4 18.0L394.4 14.0L394.4 22.0Z"/><path d="M382.9 28.4L390.9 24.4L390.9 32.4Z"/><path d="M379.3 38.8L387.3 34.8L387.3 42.8Z"/><path d="M375.6 49.2L383.6 45.2L383.6 53.2Z"/><path d="M371.7 59.5L379.7 55.5L379.7 63.5Z"/><path d="M367.5 69.6L375.5 65.6L375.5 73.6Z"/><path d="M363.1 79.7L371.1 75.7L371.1 83.7Z"/><path d="M358.2 89.6L366.2 85.6L366.2 93.6Z"/><path d="M353.1 99.3L361.1 95.3L361.1 103.3Z"/><path d="M348.0 109.1L356.0 105.1L356.0 113.1Z"/><path d="M354.9 140.0L362.9 136.0L362.9 144.0Z"/><path d="M350.3 150.0L358.3 146.0L358.3 154.0Z"/><path d="M345.6 159.9L353.6 155.9L353.6 163.9Z"/><path d="M340.9 169.8L348.9 165.8L348.9 173.8Z"/><path d="M336.1 179.7L344.1 175.7L344.1 183.7Z"/><path d="M331.1 189.5L339.1 185.5L339.1 193.5Z"/><path d="M325.9 199.3L333.9 195.3L333.9 203.3Z"/><path d="M320.8 209.0L328.8 205.0L328.8 213.0Z"/><path d="M316.1 218.9L324.1 214.9L324.1 222.9Z"/><path d="M311.7 229.0L319.7 225.0L319.7 233.0Z"/><path d="M307.7 239.3L315.7 235.3L315.7 243.3Z"/><path d="M303.9 249.6L311.9 245.6L311.9 253.6Z"/><path d="M300.0 259.9L308.0 255.9L308.0 263.9Z"/></g>
<path d="M414.8 12.0 L414.6 14.3 L414.3 17.2 L414.0 20.6 L413.6 24.4 L413.2 28.5 L412.8 32.9 L412.3 37.4 L411.9 42.1 L411.4 46.7 L411.0 51.3 L410.5 55.8 L410.1 60.0 L409.7 64.1 L409.3 68.2 L408.9 72.4 L408.5 76.5 L408.1 80.7 L407.7 84.9 L407.3 89.1 L406.9 93.3 L406.5 97.5 L406.0 101.6 L405.6 105.8 L405.2 110.0 L404.8 114.2 L404.4 118.3 L404.0 122.5 L403.6 126.7 L403.2 130.8 L402.8 135.0 L402.4 139.2 L402.0 143.3 L401.6 147.5 L401.2 151.7 L400.8 155.8 L400.3 160.0 L399.9 164.2 L399.5 168.3 L399.1 172.5 L398.7 176.7 L398.3 180.8 L397.9 185.0 L397.5 189.2 L397.1 193.3 L396.7 197.5 L396.3 201.7 L395.9 205.8 L395.5 210.0 L395.0 214.3 L394.6 218.8 L394.2 223.4 L393.7 228.1 L393.2 232.8 L392.8 237.4 L392.4 241.9 L391.9 246.1 L391.5 250.2 L391.2 253.9 L390.9 257.2 L390.6 260.0 L390.4 262.4 L390.2 264.3 L390.0 266.0 L389.9 267.3 L389.8 268.3 L389.7 269.1 L389.6 269.8 L389.6 270.3 L389.5 270.7 L389.5 271.1 L389.5 271.5 L389.4 272.0" fill="none" stroke="#000000" stroke-width="5.4" stroke-linejoin="round"/>
<path d="M411.5 12.0 L411.5 12.5 L411.4 13.0 L411.4 13.5 L411.4 14.0 L411.4 14.6 L411.4 15.4 L411.3 16.3 L411.2 17.4 L411.1 18.8 L411.0 20.5 L410.8 22.6 L410.5 25.0 L410.2 27.9 L409.8 31.2 L409.4 34.9 L408.9 38.9 L408.4 43.2 L407.9 47.7 L407.3 52.3 L406.8 57.0 L406.2 61.6 L405.6 66.2 L405.1 70.7 L404.5 75.0 L404.0 79.2 L403.4 83.3 L402.9 87.5 L402.3 91.7 L401.7 95.8 L401.2 100.0 L400.6 104.2 L400.0 108.3 L399.4 112.5 L398.8 116.7 L398.1 120.8 L397.5 125.0 L396.9 129.2 L396.2 133.3 L395.5 137.5 L394.9 141.7 L394.2 145.8 L393.5 150.0 L392.8 154.2 L392.1 158.3 L391.3 162.5 L390.6 166.7 L389.8 170.8 L389.0 175.0 L388.2 179.2 L387.3 183.6 L386.3 188.1 L385.4 192.6 L384.4 197.1 L383.4 201.6 L382.4 205.9 L381.4 210.2 L380.5 214.3 L379.6 218.1 L378.8 221.7 L378.0 225.0 L377.3 228.0 L376.6 230.7 L376.0 233.1 L375.4 235.4 L374.8 237.4 L374.3 239.4 L373.8 241.2 L373.3 243.0 L372.8 244.7 L372.4 246.4 L371.9 248.2 L371.5 250.0 L371.1 251.9 L370.7 253.9 L370.3 255.8 L370.0 257.8 L369.7 259.7 L369.3 261.6 L369.1 263.3 L368.8 265.0 L368.6 266.5 L368.3 267.9 L368.2 269.0 L368.0 270.0" fill="none" stroke="#ff0000" stroke-width="5.8" stroke-linejoin="round"/>
<path d="M406.0 12.0 L405.9 12.5 L405.9 13.0 L405.9 13.5 L405.9 14.0 L405.9 14.6 L405.8 15.4 L405.7 16.3 L405.6 17.4 L405.3 18.8 L405.0 20.5 L404.6 22.6 L404.0 25.0 L403.3 27.9 L402.5 31.2 L401.6 34.9 L400.5 38.9 L399.4 43.2 L398.3 47.7 L397.1 52.3 L395.9 57.0 L394.6 61.6 L393.4 66.2 L392.2 70.7 L391.0 75.0 L389.8 79.2 L388.7 83.3 L387.5 87.5 L386.3 91.7 L385.1 95.8 L383.8 100.0 L382.6 104.2 L381.4 108.3 L380.2 112.5 L378.9 116.7 L377.7 120.8 L376.5 125.0 L375.3 129.2 L374.1 133.3 L372.9 137.5 L371.7 141.7 L370.5 145.8 L369.3 150.0 L368.1 154.2 L366.9 158.3 L365.7 162.5 L364.5 166.7 L363.3 170.8 L362.0 175.0 L360.7 179.2 L359.4 183.6 L358.0 188.1 L356.6 192.6 L355.1 197.1 L353.7 201.6 L352.3 205.9 L350.9 210.2 L349.6 214.3 L348.3 218.1 L347.1 221.7 L346.0 225.0 L345.0 228.0 L344.0 230.7 L343.0 233.1 L342.1 235.4 L341.3 237.4 L340.5 239.4 L339.7 241.2 L339.0 243.0 L338.2 244.7 L337.5 246.4 L336.7 248.2 L336.0 250.0 L335.2 251.9 L334.5 253.9 L333.7 255.8 L332.9 257.8 L332.1 259.7 L331.4 261.6 L330.7 263.3 L330.0 265.0 L329.4 266.5 L328.8 267.9 L328.4 269.0 L328.0 270.0" fill="none" stroke="#00ff00" stroke-width="6.0" stroke-linejoin="round"/>
<path d="M402.0 12.0 L401.9 12.5 L401.8 13.0 L401.8 13.5 L401.7 14.0 L401.6 14.6 L401.5 15.4 L401.3 16.3 L401.0 17.4 L400.6 18.8 L400.1 20.5 L399.4 22.6 L398.5 25.0 L397.4 27.9 L396.1 31.2 L394.7 34.9 L393.1 38.9 L391.4 43.2 L389.6 47.7 L387.8 52.3 L385.9 57.0 L384.0 61.6 L382.1 66.2 L380.3 70.7 L378.5 75.0 L376.8 79.2 L375.0 83.3 L373.3 87.5 L371.5 91.7 L369.7 95.8 L368.0 100.0 L366.2 104.2 L364.4 108.3 L362.6 112.5 L360.7 116.7 L358.9 120.8 L357.0 125.0 L355.1 129.2 L353.2 133.3 L351.3 137.5 L349.4 141.7 L347.5 145.8 L345.5 150.0 L343.5 154.2 L341.6 158.3 L339.6 162.5 L337.6 166.7 L335.5 170.8 L333.5 175.0 L331.4 179.2 L329.2 183.6 L326.9 188.1 L324.6 192.6 L322.2 197.1 L319.9 201.6 L317.6 205.9 L315.4 210.2 L313.3 214.3 L311.4 218.1 L309.6 221.7 L308.0 225.0 L306.6 228.0 L305.4 230.8 L304.2 233.4 L303.3 235.8 L302.4 238.0 L301.6 240.1 L300.9 242.1 L300.2 243.9 L299.6 245.5 L299.1 247.1 L298.5 248.6 L298.0 250.0 L297.5 251.3 L297.1 252.4 L296.7 253.4 L296.4 254.2 L296.1 254.9 L295.9 255.6 L295.7 256.1 L295.5 256.6 L295.4 257.0 L295.2 257.3 L295.1 257.7 L295.0 258.0" fill="none" stroke="#0000ff" stroke-width="6.0" stroke-linejoin="round"/>
<path d="M399.0 12.0 L398.9 12.5 L398.9 13.0 L399.0 13.5 L399.0 14.0 L399.0 14.6 L399.0 15.4 L398.9 16.3 L398.8 17.4 L398.4 18.8 L398.0 20.5 L397.3 22.6 L396.5 25.0 L395.4 27.9 L394.2 31.2 L392.7 34.9 L391.1 38.9 L389.4 43.2 L387.5 47.7 L385.6 52.3 L383.7 57.0 L381.7 61.6 L379.8 66.2 L377.9 70.7 L376.0 75.0 L374.2 79.2 L372.3 83.3 L370.5 87.5 L368.6 91.7 L366.7 95.8 L364.8 100.0 L362.9 104.2 L360.9 108.3 L358.9 112.5 L357.0 116.7 L355.0 120.8 L353.0 125.0 L351.0 129.2 L349.0 133.3 L346.9 137.5 L344.9 141.7 L342.8 145.8 L340.7 150.0 L338.6 154.2 L336.5 158.3 L334.4 162.5 L332.2 166.7 L330.1 170.8 L328.0 175.0 L325.8 179.3 L323.5 183.8 L321.1 188.4 L318.7 193.1 L316.2 197.8 L313.8 202.4 L311.5 206.9 L309.2 211.2 L307.1 215.2 L305.2 218.9 L303.5 222.2 L302.0 225.0 L300.8 227.3 L299.8 229.2 L299.0 230.8 L298.3 232.0 L297.8 232.9 L297.4 233.6 L297.1 234.2 L296.8 234.6 L296.6 234.9 L296.4 235.3 L296.2 235.6 L296.0 236.0" fill="none" stroke="#00ffff" stroke-width="4.2" stroke-linejoin="round"/>
<path d="M397.0 12.0 L396.9 12.5 L396.9 13.0 L397.0 13.5 L397.0 14.0 L397.0 14.6 L397.0 15.4 L396.9 16.3 L396.8 17.4 L396.5 18.8 L396.0 20.5 L395.4 22.6 L394.6 25.0 L393.6 27.9 L392.4 31.2 L391.1 34.9 L389.6 38.9 L388.0 43.2 L386.3 47.7 L384.5 52.3 L382.6 57.0 L380.7 61.6 L378.8 66.2 L376.9 70.7 L375.0 75.0 L373.1 79.2 L371.1 83.3 L369.0 87.5 L366.9 91.7 L364.7 95.8 L362.5 100.0 L360.3 104.2 L358.1 108.3 L355.9 112.5 L353.6 116.7 L351.5 120.8 L349.3 125.0 L347.2 129.2 L345.0 133.3 L342.9 137.5 L340.8 141.7 L338.6 145.8 L336.5 150.0 L334.4 154.2 L332.2 158.3 L330.1 162.5 L328.0 166.7 L325.8 170.8 L323.7 175.0 L321.5 179.3 L319.2 183.8 L316.8 188.5 L314.3 193.3 L311.9 198.0 L309.5 202.7 L307.2 207.2 L305.0 211.5 L302.9 215.5 L301.0 219.2 L299.4 222.3 L298.0 225.0 L296.9 227.1 L296.0 228.7 L295.4 229.9 L294.9 230.8 L294.6 231.3 L294.4 231.6 L294.3 231.8 L294.2 231.8 L294.2 231.8 L294.2 231.7 L294.1 231.8 L294.0 232.0" fill="none" stroke="#ff00ff" stroke-width="5.6" stroke-linejoin="round"/>
</g>
<path d="M177.8 265.7 L177.8 17 L414.4 17 L414.4 265.7 Z" fill="none" stroke="#000" stroke-width="2.8"/>
<path d="M177.8 16.8H188M177.8 144.6H188M177.8 106.1H183M177.8 83.6H183M177.8 67.7H183M177.8 55.3H183M177.8 45.2H183M177.8 36.6H183M177.8 29.2H183M177.8 22.6H183M177.8 233.9H183M177.8 211.4H183M177.8 195.5H183M177.8 183.1H183M177.8 173.0H183M177.8 164.4H183M177.8 157.0H183M177.8 150.4H183M197.0 265.7V256M229.3 265.7V256M261.6 265.7V256M180.8 265.7V260.5M213.2 265.7V260.5M245.4 265.7V260.5M277.8 265.7V260.5M297.7 265.7V256M335.3 265.7V256M372.9 265.7V256M410.5 265.7V256M316.5 265.7V260.5M354.1 265.7V260.5M391.7 265.7V260.5" stroke="#000" stroke-width="2.2" fill="none"/>
<text x="197.0" y="291.8" font-family="Liberation Serif, Times New Roman, serif" font-size="16.5" text-anchor="middle" stroke="#000" stroke-width="0.5">-5</text>
<text x="229.3" y="291.8" font-family="Liberation Serif, Times New Roman, serif" font-size="16.5" text-anchor="middle" stroke="#000" stroke-width="0.5">-4</text>
<text x="261.6" y="291.8" font-family="Liberation Serif, Times New Roman, serif" font-size="16.5" text-anchor="middle" stroke="#000" stroke-width="0.5">-3</text>
<text x="297.7" y="291.8" font-family="Liberation Serif, Times New Roman, serif" font-size="16.5" text-anchor="middle" stroke="#000" stroke-width="0.5">2</text>
<text x="335.3" y="291.8" font-family="Liberation Serif, Times New Roman, serif" font-size="16.5" text-anchor="middle" stroke="#000" stroke-width="0.5">3</text>
<text x="372.9" y="291.8" font-family="Liberation Serif, Times New Roman, serif" font-size="16.5" text-anchor="middle" stroke="#000" stroke-width="0.5">4</text>
<text x="410.5" y="291.8" font-family="Liberation Serif, Times New Roman, serif" font-size="16.5" text-anchor="middle" stroke="#000" stroke-width="0.5">5</text>
<text x="145" y="32.9" font-family="Liberation Serif, Times New Roman, serif" font-size="19" stroke="#000" stroke-width="0.5">10<tspan font-size="11" dy="-10">-8</tspan></text>
<text x="144.3" y="159.7" font-family="Liberation Serif, Times New Roman, serif" font-size="19" stroke="#000" stroke-width="0.5">10<tspan font-size="11" dy="-10">-9</tspan></text>
<text x="290.8" y="310.6" font-family="Liberation Serif, Times New Roman, serif" font-size="19" text-anchor="middle" stroke="#000" stroke-width="0.45"><tspan font-style="italic">U</tspan> (V)</text>
<text transform="translate(158 93.5) rotate(-90)" font-family="Liberation Serif, Times New Roman, serif" font-size="23.5" text-anchor="middle" stroke="#000" stroke-width="0.45"><tspan font-style="italic">J</tspan> (A/cm<tspan font-size="15" dy="-9.5">2</tspan><tspan dy="9.5">)</tspan></text>
<text x="260.8" y="39.3" font-family="Liberation Serif, Times New Roman, serif" font-size="9.5" font-weight="bold" textLength="81.7" lengthAdjust="spacingAndGlyphs">Exp. / Sim. <tspan font-style="italic">T</tspan> = 25 °C</text>
<path d="M257.5 48.7H303.5" stroke="#ff00ff" stroke-width="2.2"/>
<g fill="#fff" stroke="#ff00ff" stroke-width="1.8"><path d="M262.3 48.7L273.3 43.2L273.3 54.2Z"/></g>
<path d="M278 53.2L282 44.2" stroke="#000" stroke-width="1.4"/>
<text x="305.5" y="52.1" font-family="Liberation Serif, Times New Roman, serif" font-size="9.5" font-weight="bold" textLength="40.5" lengthAdjust="spacingAndGlyphs">10.0 C/cm<tspan font-size="6" dy="-4">2</tspan></text>
<path d="M257.5 61.5H303.5" stroke="#00ffff" stroke-width="2.2"/>
<g fill="#fff" stroke="#00ffff" stroke-width="1.8"><path d="M267.8 56.0L273.3 61.5L267.8 67.0L262.3 61.5Z"/></g>
<path d="M278 66.0L282 57.0" stroke="#000" stroke-width="1.4"/>
<text x="305.5" y="64.9" font-family="Liberation Serif, Times New Roman, serif" font-size="9.5" font-weight="bold" textLength="40.5" lengthAdjust="spacingAndGlyphs">3.00 C/cm<tspan font-size="6" dy="-4">2</tspan></text>
<path d="M257.5 74.3H303.5" stroke="#0000ff" stroke-width="2.2"/>
<g fill="#fff" stroke="#0000ff" stroke-width="1.8"><path d="M262.3 69.6L273.3 69.6L267.8 79.5Z"/></g>
<path d="M278 78.8L282 69.8" stroke="#000" stroke-width="1.4"/>
<text x="305.5" y="77.7" font-family="Liberation Serif, Times New Roman, serif" font-size="9.5" font-weight="bold" textLength="40.5" lengthAdjust="spacingAndGlyphs">1.00 C/cm<tspan font-size="6" dy="-4">2</tspan></text>
<path d="M257.5 87.1H303.5" stroke="#00ff00" stroke-width="2.2"/>
<g fill="#fff" stroke="#00ff00" stroke-width="1.8"><path d="M262.3 91.8L273.3 91.8L267.8 81.9Z"/></g>
<path d="M278 91.6L282 82.6" stroke="#000" stroke-width="1.4"/>
<text x="305.5" y="90.5" font-family="Liberation Serif, Times New Roman, serif" font-size="9.5" font-weight="bold" textLength="40.5" lengthAdjust="spacingAndGlyphs">0.10 C/cm<tspan font-size="6" dy="-4">2</tspan></text>
<path d="M257.5 99.9H303.5" stroke="#ff0000" stroke-width="2.2"/>
<g fill="#fff" stroke="#ff0000" stroke-width="1.8"><circle cx="267.8" cy="99.9" r="5.5"/></g>
<path d="M278 104.4L282 95.4" stroke="#000" stroke-width="1.4"/>
<text x="305.5" y="103.3" font-family="Liberation Serif, Times New Roman, serif" font-size="9.5" font-weight="bold" textLength="40.5" lengthAdjust="spacingAndGlyphs">0.01 C/cm<tspan font-size="6" dy="-4">2</tspan></text>
<path d="M257.5 112.7H303.5" stroke="#000000" stroke-width="2.2"/>
<g fill="#fff" stroke="#000000" stroke-width="1.8"><rect x="263.1" y="108.0" width="9.3" height="9.3"/></g>
<path d="M278 117.2L282 108.2" stroke="#000" stroke-width="1.4"/>
<text x="305.5" y="116.1" font-family="Liberation Serif, Times New Roman, serif" font-size="9.5" font-weight="bold" textLength="29.6" lengthAdjust="spacingAndGlyphs">0 C/cm<tspan font-size="6" dy="-4">2</tspan></text>
<path d="M288.5 30 L296 0 L305.5 0 L298 30 Z" fill="#fff"/>
<path d="M291.5 27.5 L298.5 0 M296.5 27.5 L304.5 0" stroke="#000" stroke-width="3.2"/>
<path d="M291 462 L297.5 443 L303 443 L296.5 462 Z" fill="#fff"/>
<path d="M289.5 462.5 L297.5 442.5 M296.8 462.8 L302.5 443" stroke="#000" stroke-width="2.6"/>
<path d="M288.8 277 L292 266 M293.5 277 L296.5 266" stroke="#000" stroke-width="2.4"/>
</svg>
</body></html>
